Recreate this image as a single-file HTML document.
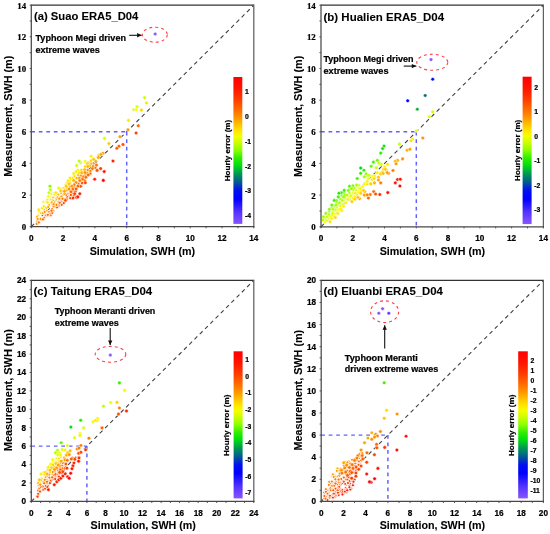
<!DOCTYPE html>
<html><head><meta charset="utf-8"><style>
html,body{margin:0;padding:0;background:#fff;width:550px;height:534px;overflow:hidden}
svg{display:block;filter:blur(0.35px)}
</style></head><body>
<svg width="550" height="534" viewBox="0 0 550 534"><rect x="0" y="0" width="550" height="534" fill="#fff"/><defs><linearGradient id="cbg" x1="0" y1="0" x2="0" y2="1"><stop offset="0.0" stop-color="#ff0000"/><stop offset="0.08" stop-color="#ff1500"/><stop offset="0.16" stop-color="#ff4000"/><stop offset="0.24" stop-color="#ff7800"/><stop offset="0.29" stop-color="#ffa000"/><stop offset="0.335" stop-color="#ffcc00"/><stop offset="0.37" stop-color="#ffe800"/><stop offset="0.405" stop-color="#f4ff00"/><stop offset="0.45" stop-color="#c8ff00"/><stop offset="0.5" stop-color="#88ff00"/><stop offset="0.55" stop-color="#33ee00"/><stop offset="0.6" stop-color="#00e010"/><stop offset="0.66" stop-color="#009655"/><stop offset="0.72" stop-color="#005599"/><stop offset="0.77" stop-color="#0011ee"/><stop offset="0.83" stop-color="#0000ff"/><stop offset="0.92" stop-color="#5533ff"/><stop offset="1.0" stop-color="#8855ff"/></linearGradient></defs>
<line x1="31.3" y1="226.7" x2="253.8" y2="5.2" stroke="#404040" stroke-width="1.1" stroke-dasharray="4 3.42"/>
<line x1="31.3" y1="131.8" x2="126.7" y2="131.8" stroke="#6060ff" stroke-width="1.45" stroke-dasharray="3.7 3.8"/>
<line x1="126.7" y1="131.8" x2="126.7" y2="226.7" stroke="#6060ff" stroke-width="1.45" stroke-dasharray="3.7 3.8"/>
<circle cx="68.8" cy="196.4" r="1.6" fill="#ff5900" stroke="#fff" stroke-width="0.8"/>
<circle cx="44.8" cy="216.7" r="1.6" fill="#ff7400" stroke="#fff" stroke-width="0.8"/>
<circle cx="53.0" cy="210.4" r="1.6" fill="#ff6700" stroke="#fff" stroke-width="0.8"/>
<circle cx="63.1" cy="188.3" r="1.6" fill="#ffd200" stroke="#fff" stroke-width="0.8"/>
<circle cx="65.1" cy="189.3" r="1.6" fill="#ffb400" stroke="#fff" stroke-width="0.8"/>
<circle cx="70.5" cy="189.8" r="1.6" fill="#ff7e00" stroke="#fff" stroke-width="0.8"/>
<circle cx="38.9" cy="219.6" r="1.6" fill="#ff8d00" stroke="#fff" stroke-width="0.8"/>
<circle cx="50.7" cy="215.1" r="1.6" fill="#ff5400" stroke="#fff" stroke-width="0.8"/>
<circle cx="65.4" cy="198.8" r="1.6" fill="#ff6100" stroke="#fff" stroke-width="0.8"/>
<circle cx="57.8" cy="204.2" r="1.6" fill="#ff7000" stroke="#fff" stroke-width="0.8"/>
<circle cx="62.5" cy="191.6" r="1.6" fill="#ffb700" stroke="#fff" stroke-width="0.8"/>
<circle cx="58.5" cy="202.0" r="1.6" fill="#ff7c00" stroke="#fff" stroke-width="0.8"/>
<circle cx="40.5" cy="218.9" r="1.6" fill="#ff8500" stroke="#fff" stroke-width="0.8"/>
<circle cx="69.4" cy="194.1" r="1.6" fill="#ff6500" stroke="#fff" stroke-width="0.8"/>
<circle cx="66.5" cy="183.2" r="1.6" fill="#ffe000" stroke="#fff" stroke-width="0.8"/>
<circle cx="54.6" cy="197.8" r="1.6" fill="#ffc800" stroke="#fff" stroke-width="0.8"/>
<circle cx="62.8" cy="193.7" r="1.6" fill="#ff9f00" stroke="#fff" stroke-width="0.8"/>
<circle cx="39.2" cy="211.6" r="1.6" fill="#ffd500" stroke="#fff" stroke-width="0.8"/>
<circle cx="56.1" cy="200.0" r="1.6" fill="#ffa200" stroke="#fff" stroke-width="0.8"/>
<circle cx="68.1" cy="185.8" r="1.6" fill="#ffba00" stroke="#fff" stroke-width="0.8"/>
<circle cx="46.2" cy="207.8" r="1.6" fill="#ffb800" stroke="#fff" stroke-width="0.8"/>
<circle cx="61.4" cy="196.6" r="1.6" fill="#ff9100" stroke="#fff" stroke-width="0.8"/>
<circle cx="68.3" cy="195.0" r="1.6" fill="#ff6700" stroke="#fff" stroke-width="0.8"/>
<circle cx="46.0" cy="200.9" r="1.6" fill="#f9f500" stroke="#fff" stroke-width="0.8"/>
<circle cx="49.7" cy="196.9" r="1.6" fill="#f8f700" stroke="#fff" stroke-width="0.8"/>
<circle cx="56.7" cy="198.7" r="1.6" fill="#ffaa00" stroke="#fff" stroke-width="0.8"/>
<circle cx="43.4" cy="201.9" r="1.6" fill="#f3ff00" stroke="#fff" stroke-width="0.8"/>
<circle cx="70.2" cy="196.8" r="1.6" fill="#ff4c00" stroke="#fff" stroke-width="0.8"/>
<circle cx="52.1" cy="203.9" r="1.6" fill="#ffa300" stroke="#fff" stroke-width="0.8"/>
<circle cx="44.0" cy="217.9" r="1.6" fill="#ff7100" stroke="#fff" stroke-width="0.8"/>
<circle cx="54.3" cy="202.1" r="1.6" fill="#ff9f00" stroke="#fff" stroke-width="0.8"/>
<circle cx="56.7" cy="195.9" r="1.6" fill="#ffc700" stroke="#fff" stroke-width="0.8"/>
<circle cx="37.4" cy="221.2" r="1.6" fill="#ff8c00" stroke="#fff" stroke-width="0.8"/>
<circle cx="58.9" cy="205.8" r="1.6" fill="#ff5d00" stroke="#fff" stroke-width="0.8"/>
<circle cx="46.8" cy="211.0" r="1.6" fill="#ff9300" stroke="#fff" stroke-width="0.8"/>
<circle cx="53.6" cy="193.5" r="1.6" fill="#faf300" stroke="#fff" stroke-width="0.8"/>
<circle cx="72.4" cy="195.0" r="1.6" fill="#ff4900" stroke="#fff" stroke-width="0.8"/>
<circle cx="61.0" cy="193.0" r="1.6" fill="#ffb800" stroke="#fff" stroke-width="0.8"/>
<circle cx="49.2" cy="211.8" r="1.6" fill="#ff7800" stroke="#fff" stroke-width="0.8"/>
<circle cx="61.2" cy="201.3" r="1.6" fill="#ff6d00" stroke="#fff" stroke-width="0.8"/>
<circle cx="72.8" cy="190.9" r="1.6" fill="#ff6400" stroke="#fff" stroke-width="0.8"/>
<circle cx="49.1" cy="205.1" r="1.6" fill="#ffb500" stroke="#fff" stroke-width="0.8"/>
<circle cx="38.0" cy="215.5" r="1.6" fill="#ffbd00" stroke="#fff" stroke-width="0.8"/>
<circle cx="50.7" cy="213.2" r="1.6" fill="#ff6200" stroke="#fff" stroke-width="0.8"/>
<circle cx="54.6" cy="194.6" r="1.6" fill="#ffe400" stroke="#fff" stroke-width="0.8"/>
<circle cx="56.9" cy="207.3" r="1.6" fill="#ff6000" stroke="#fff" stroke-width="0.8"/>
<circle cx="37.0" cy="216.7" r="1.6" fill="#ffba00" stroke="#fff" stroke-width="0.8"/>
<circle cx="41.2" cy="213.0" r="1.6" fill="#ffb500" stroke="#fff" stroke-width="0.8"/>
<circle cx="49.0" cy="199.6" r="1.6" fill="#ffe900" stroke="#fff" stroke-width="0.8"/>
<circle cx="72.1" cy="193.5" r="1.6" fill="#ff5600" stroke="#fff" stroke-width="0.8"/>
<circle cx="36.8" cy="223.8" r="1.6" fill="#ff7b00" stroke="#fff" stroke-width="0.8"/>
<circle cx="65.7" cy="184.9" r="1.6" fill="#ffd900" stroke="#fff" stroke-width="0.8"/>
<circle cx="57.8" cy="197.3" r="1.6" fill="#ffac00" stroke="#fff" stroke-width="0.8"/>
<circle cx="38.8" cy="222.4" r="1.6" fill="#ff7600" stroke="#fff" stroke-width="0.8"/>
<circle cx="61.1" cy="199.4" r="1.6" fill="#ff7d00" stroke="#fff" stroke-width="0.8"/>
<circle cx="56.3" cy="204.9" r="1.6" fill="#ff7600" stroke="#fff" stroke-width="0.8"/>
<circle cx="44.4" cy="210.1" r="1.6" fill="#ffb200" stroke="#fff" stroke-width="0.8"/>
<circle cx="66.8" cy="190.3" r="1.6" fill="#ff9900" stroke="#fff" stroke-width="0.8"/>
<circle cx="67.4" cy="193.9" r="1.6" fill="#ff7600" stroke="#fff" stroke-width="0.8"/>
<circle cx="59.8" cy="204.4" r="1.6" fill="#ff6000" stroke="#fff" stroke-width="0.8"/>
<circle cx="52.2" cy="212.8" r="1.6" fill="#ff5a00" stroke="#fff" stroke-width="0.8"/>
<circle cx="52.0" cy="209.0" r="1.6" fill="#ff7900" stroke="#fff" stroke-width="0.8"/>
<circle cx="42.2" cy="208.1" r="1.6" fill="#ffdb00" stroke="#fff" stroke-width="0.8"/>
<circle cx="48.2" cy="207.0" r="1.6" fill="#ffaa00" stroke="#fff" stroke-width="0.8"/>
<circle cx="73.8" cy="195.5" r="1.6" fill="#ff3c00" stroke="#fff" stroke-width="0.8"/>
<circle cx="47.5" cy="198.3" r="1.6" fill="#f5fc00" stroke="#fff" stroke-width="0.8"/>
<circle cx="53.6" cy="206.2" r="1.6" fill="#ff8200" stroke="#fff" stroke-width="0.8"/>
<circle cx="61.8" cy="204.7" r="1.6" fill="#ff5000" stroke="#fff" stroke-width="0.8"/>
<circle cx="42.8" cy="213.2" r="1.6" fill="#ffa200" stroke="#fff" stroke-width="0.8"/>
<circle cx="62.5" cy="198.7" r="1.6" fill="#ff7600" stroke="#fff" stroke-width="0.8"/>
<circle cx="51.3" cy="199.5" r="1.6" fill="#ffd600" stroke="#fff" stroke-width="0.8"/>
<circle cx="44.7" cy="212.0" r="1.6" fill="#ff9c00" stroke="#fff" stroke-width="0.8"/>
<circle cx="70.3" cy="198.2" r="1.6" fill="#ff4000" stroke="#fff" stroke-width="0.8"/>
<circle cx="53.1" cy="197.7" r="1.6" fill="#ffd600" stroke="#fff" stroke-width="0.8"/>
<circle cx="66.9" cy="198.9" r="1.6" fill="#ff5400" stroke="#fff" stroke-width="0.8"/>
<circle cx="43.7" cy="206.3" r="1.6" fill="#ffdd00" stroke="#fff" stroke-width="0.8"/>
<circle cx="58.3" cy="194.5" r="1.6" fill="#ffc400" stroke="#fff" stroke-width="0.8"/>
<circle cx="51.3" cy="193.8" r="1.6" fill="#f0ff00" stroke="#fff" stroke-width="0.8"/>
<circle cx="46.2" cy="215.3" r="1.6" fill="#ff7400" stroke="#fff" stroke-width="0.8"/>
<circle cx="59.7" cy="202.8" r="1.6" fill="#ff6d00" stroke="#fff" stroke-width="0.8"/>
<circle cx="60.8" cy="189.0" r="1.6" fill="#ffdf00" stroke="#fff" stroke-width="0.8"/>
<circle cx="47.4" cy="199.9" r="1.6" fill="#faf200" stroke="#fff" stroke-width="0.8"/>
<circle cx="70.3" cy="183.0" r="1.6" fill="#ffc000" stroke="#fff" stroke-width="0.8"/>
<circle cx="51.5" cy="210.7" r="1.6" fill="#ff6f00" stroke="#fff" stroke-width="0.8"/>
<circle cx="70.9" cy="195.0" r="1.6" fill="#ff5400" stroke="#fff" stroke-width="0.8"/>
<circle cx="47.8" cy="214.8" r="1.6" fill="#ff6c00" stroke="#fff" stroke-width="0.8"/>
<circle cx="67.0" cy="196.7" r="1.6" fill="#ff6500" stroke="#fff" stroke-width="0.8"/>
<circle cx="66.7" cy="187.6" r="1.6" fill="#ffb500" stroke="#fff" stroke-width="0.8"/>
<circle cx="48.3" cy="196.3" r="1.6" fill="#ebff00" stroke="#fff" stroke-width="0.8"/>
<circle cx="66.2" cy="194.8" r="1.6" fill="#ff7900" stroke="#fff" stroke-width="0.8"/>
<circle cx="63.8" cy="203.0" r="1.6" fill="#ff4d00" stroke="#fff" stroke-width="0.8"/>
<circle cx="37.6" cy="218.9" r="1.6" fill="#ff9d00" stroke="#fff" stroke-width="0.8"/>
<circle cx="64.6" cy="193.7" r="1.6" fill="#ff8f00" stroke="#fff" stroke-width="0.8"/>
<circle cx="52.9" cy="200.5" r="1.6" fill="#ffbe00" stroke="#fff" stroke-width="0.8"/>
<circle cx="59.3" cy="198.6" r="1.6" fill="#ff9300" stroke="#fff" stroke-width="0.8"/>
<circle cx="42.9" cy="219.4" r="1.6" fill="#ff6e00" stroke="#fff" stroke-width="0.8"/>
<circle cx="51.8" cy="202.3" r="1.6" fill="#ffb600" stroke="#fff" stroke-width="0.8"/>
<circle cx="47.5" cy="202.3" r="1.6" fill="#ffdf00" stroke="#fff" stroke-width="0.8"/>
<circle cx="69.5" cy="187.0" r="1.6" fill="#ff9f00" stroke="#fff" stroke-width="0.8"/>
<circle cx="53.6" cy="204.2" r="1.6" fill="#ff9300" stroke="#fff" stroke-width="0.8"/>
<circle cx="78.3" cy="175.0" r="1.65" fill="#ffc100" stroke="#fff" stroke-width="0.5"/>
<circle cx="85.2" cy="166.6" r="1.65" fill="#ffcf00" stroke="#fff" stroke-width="0.5"/>
<circle cx="81.4" cy="170.1" r="1.65" fill="#ffd200" stroke="#fff" stroke-width="0.5"/>
<circle cx="90.3" cy="170.9" r="1.65" fill="#ff7700" stroke="#fff" stroke-width="0.5"/>
<circle cx="76.7" cy="178.1" r="1.65" fill="#ffb000" stroke="#fff" stroke-width="0.5"/>
<circle cx="91.1" cy="160.6" r="1.65" fill="#ffd000" stroke="#fff" stroke-width="0.5"/>
<circle cx="93.6" cy="163.3" r="1.65" fill="#ff9d00" stroke="#fff" stroke-width="0.5"/>
<circle cx="95.4" cy="160.8" r="1.65" fill="#ffa200" stroke="#fff" stroke-width="0.5"/>
<circle cx="79.3" cy="178.0" r="1.65" fill="#ff9800" stroke="#fff" stroke-width="0.5"/>
<circle cx="95.2" cy="167.7" r="1.65" fill="#ff6b00" stroke="#fff" stroke-width="0.5"/>
<circle cx="90.2" cy="173.6" r="1.65" fill="#ff6400" stroke="#fff" stroke-width="0.5"/>
<circle cx="84.7" cy="180.5" r="1.65" fill="#ff5a00" stroke="#fff" stroke-width="0.5"/>
<circle cx="78.4" cy="183.9" r="1.65" fill="#ff6f00" stroke="#fff" stroke-width="0.5"/>
<circle cx="81.2" cy="175.4" r="1.65" fill="#ff9e00" stroke="#fff" stroke-width="0.5"/>
<circle cx="74.4" cy="175.9" r="1.65" fill="#ffdb00" stroke="#fff" stroke-width="0.5"/>
<circle cx="82.0" cy="183.0" r="1.65" fill="#ff5b00" stroke="#fff" stroke-width="0.5"/>
<circle cx="87.6" cy="169.9" r="1.65" fill="#ff9600" stroke="#fff" stroke-width="0.5"/>
<circle cx="93.0" cy="166.2" r="1.65" fill="#ff8900" stroke="#fff" stroke-width="0.5"/>
<circle cx="85.4" cy="175.0" r="1.65" fill="#ff7e00" stroke="#fff" stroke-width="0.5"/>
<circle cx="90.8" cy="163.7" r="1.65" fill="#ffb400" stroke="#fff" stroke-width="0.5"/>
<circle cx="75.4" cy="191.3" r="1.65" fill="#ff4e00" stroke="#fff" stroke-width="0.5"/>
<circle cx="79.2" cy="172.5" r="1.65" fill="#ffd000" stroke="#fff" stroke-width="0.5"/>
<circle cx="74.3" cy="187.2" r="1.65" fill="#ff7500" stroke="#fff" stroke-width="0.5"/>
<circle cx="155.2" cy="34.0" r="1.8" fill="#8855ff" stroke="#fff" stroke-width="0.5"/>
<circle cx="144.6" cy="97.6" r="1.8" fill="#ceff00" stroke="#fff" stroke-width="0.5"/>
<circle cx="146.5" cy="103.0" r="1.8" fill="#ffe500" stroke="#fff" stroke-width="0.5"/>
<circle cx="137.0" cy="106.6" r="1.8" fill="#ddff00" stroke="#fff" stroke-width="0.5"/>
<circle cx="133.8" cy="109.8" r="1.8" fill="#ddff00" stroke="#fff" stroke-width="0.5"/>
<circle cx="136.1" cy="109.8" r="1.8" fill="#f4fe00" stroke="#fff" stroke-width="0.5"/>
<circle cx="141.5" cy="110.1" r="1.8" fill="#ffd300" stroke="#fff" stroke-width="0.5"/>
<circle cx="128.5" cy="120.4" r="1.8" fill="#fee900" stroke="#fff" stroke-width="0.5"/>
<circle cx="138.3" cy="125.8" r="1.8" fill="#ff6400" stroke="#fff" stroke-width="0.5"/>
<circle cx="128.0" cy="129.7" r="1.8" fill="#ff9700" stroke="#fff" stroke-width="0.5"/>
<circle cx="136.1" cy="133.0" r="1.8" fill="#ff3f00" stroke="#fff" stroke-width="0.5"/>
<circle cx="119.9" cy="136.7" r="1.8" fill="#ffa000" stroke="#fff" stroke-width="0.5"/>
<circle cx="104.5" cy="138.4" r="1.8" fill="#d7ff00" stroke="#fff" stroke-width="0.5"/>
<circle cx="108.9" cy="143.6" r="1.8" fill="#ffca00" stroke="#fff" stroke-width="0.5"/>
<circle cx="123.0" cy="144.5" r="1.8" fill="#ff4a00" stroke="#fff" stroke-width="0.5"/>
<circle cx="118.9" cy="146.2" r="1.8" fill="#ff5c00" stroke="#fff" stroke-width="0.5"/>
<circle cx="116.8" cy="148.3" r="1.8" fill="#ff5b00" stroke="#fff" stroke-width="0.5"/>
<circle cx="103.0" cy="153.3" r="1.8" fill="#ffa200" stroke="#fff" stroke-width="0.5"/>
<circle cx="98.9" cy="155.6" r="1.8" fill="#ffb500" stroke="#fff" stroke-width="0.5"/>
<circle cx="98.3" cy="157.4" r="1.8" fill="#ffa800" stroke="#fff" stroke-width="0.5"/>
<circle cx="91.2" cy="156.2" r="1.8" fill="#faf300" stroke="#fff" stroke-width="0.5"/>
<circle cx="93.6" cy="159.2" r="1.8" fill="#ffc600" stroke="#fff" stroke-width="0.5"/>
<circle cx="113.0" cy="161.0" r="1.8" fill="#ff2200" stroke="#fff" stroke-width="0.5"/>
<circle cx="85.3" cy="161.5" r="1.8" fill="#f8f700" stroke="#fff" stroke-width="0.5"/>
<circle cx="80.6" cy="162.7" r="1.8" fill="#dcff00" stroke="#fff" stroke-width="0.5"/>
<circle cx="88.3" cy="162.7" r="1.8" fill="#ffd600" stroke="#fff" stroke-width="0.5"/>
<circle cx="89.4" cy="165.7" r="1.8" fill="#ffae00" stroke="#fff" stroke-width="0.5"/>
<circle cx="96.5" cy="165.1" r="1.8" fill="#ff7500" stroke="#fff" stroke-width="0.5"/>
<circle cx="92.4" cy="168.6" r="1.8" fill="#ff7900" stroke="#fff" stroke-width="0.5"/>
<circle cx="97.1" cy="170.4" r="1.8" fill="#ff4900" stroke="#fff" stroke-width="0.5"/>
<circle cx="100.6" cy="168.6" r="1.8" fill="#ff3d00" stroke="#fff" stroke-width="0.5"/>
<circle cx="104.2" cy="171.6" r="1.8" fill="#ff1800" stroke="#fff" stroke-width="0.5"/>
<circle cx="84.7" cy="169.8" r="1.8" fill="#ffb400" stroke="#fff" stroke-width="0.5"/>
<circle cx="81.8" cy="172.7" r="1.8" fill="#ffb400" stroke="#fff" stroke-width="0.5"/>
<circle cx="87.1" cy="173.3" r="1.8" fill="#ff7e00" stroke="#fff" stroke-width="0.5"/>
<circle cx="83.5" cy="176.9" r="1.8" fill="#ff7e00" stroke="#fff" stroke-width="0.5"/>
<circle cx="94.7" cy="179.2" r="1.8" fill="#ff2200" stroke="#fff" stroke-width="0.5"/>
<circle cx="103.3" cy="180.4" r="1.8" fill="#ff0000" stroke="#fff" stroke-width="0.5"/>
<circle cx="85.3" cy="182.8" r="1.8" fill="#ff4400" stroke="#fff" stroke-width="0.5"/>
<circle cx="80.6" cy="186.3" r="1.8" fill="#ff4d00" stroke="#fff" stroke-width="0.5"/>
<circle cx="82.4" cy="179.2" r="1.8" fill="#ff7400" stroke="#fff" stroke-width="0.5"/>
<circle cx="79.2" cy="161.1" r="1.8" fill="#baff00" stroke="#fff" stroke-width="0.5"/>
<circle cx="87.3" cy="163.7" r="1.8" fill="#ffd600" stroke="#fff" stroke-width="0.5"/>
<circle cx="87.8" cy="166.5" r="1.8" fill="#ffb600" stroke="#fff" stroke-width="0.5"/>
<circle cx="100.9" cy="154.4" r="1.8" fill="#ffac00" stroke="#fff" stroke-width="0.5"/>
<circle cx="77.9" cy="170.3" r="1.8" fill="#fded00" stroke="#fff" stroke-width="0.5"/>
<circle cx="76.1" cy="171.7" r="1.8" fill="#fcef00" stroke="#fff" stroke-width="0.5"/>
<circle cx="73.7" cy="173.6" r="1.8" fill="#faf300" stroke="#fff" stroke-width="0.5"/>
<circle cx="85.0" cy="172.6" r="1.8" fill="#ff9600" stroke="#fff" stroke-width="0.5"/>
<circle cx="88.2" cy="175.0" r="1.8" fill="#ff6900" stroke="#fff" stroke-width="0.5"/>
<circle cx="85.9" cy="177.3" r="1.8" fill="#ff6900" stroke="#fff" stroke-width="0.5"/>
<circle cx="79.8" cy="180.6" r="1.8" fill="#ff7e00" stroke="#fff" stroke-width="0.5"/>
<circle cx="72.3" cy="178.2" r="1.8" fill="#ffda00" stroke="#fff" stroke-width="0.5"/>
<circle cx="70.0" cy="179.6" r="1.8" fill="#ffe100" stroke="#fff" stroke-width="0.5"/>
<circle cx="68.1" cy="181.0" r="1.8" fill="#ffe600" stroke="#fff" stroke-width="0.5"/>
<circle cx="73.7" cy="180.6" r="1.8" fill="#ffb500" stroke="#fff" stroke-width="0.5"/>
<circle cx="76.1" cy="182.5" r="1.8" fill="#ff8d00" stroke="#fff" stroke-width="0.5"/>
<circle cx="74.2" cy="184.8" r="1.8" fill="#ff8a00" stroke="#fff" stroke-width="0.5"/>
<circle cx="77.9" cy="186.2" r="1.8" fill="#ff6200" stroke="#fff" stroke-width="0.5"/>
<circle cx="79.8" cy="193.7" r="1.8" fill="#ff2400" stroke="#fff" stroke-width="0.5"/>
<circle cx="71.9" cy="186.2" r="1.8" fill="#ff9100" stroke="#fff" stroke-width="0.5"/>
<circle cx="69.0" cy="183.9" r="1.8" fill="#ffc400" stroke="#fff" stroke-width="0.5"/>
<circle cx="66.2" cy="186.2" r="1.8" fill="#ffc900" stroke="#fff" stroke-width="0.5"/>
<circle cx="58.7" cy="188.1" r="1.8" fill="#f8f600" stroke="#fff" stroke-width="0.5"/>
<circle cx="60.6" cy="190.9" r="1.8" fill="#ffd100" stroke="#fff" stroke-width="0.5"/>
<circle cx="64.4" cy="191.3" r="1.8" fill="#ffa600" stroke="#fff" stroke-width="0.5"/>
<circle cx="69.0" cy="189.0" r="1.8" fill="#ff9200" stroke="#fff" stroke-width="0.5"/>
<circle cx="72.8" cy="189.0" r="1.8" fill="#ff7300" stroke="#fff" stroke-width="0.5"/>
<circle cx="76.1" cy="189.0" r="1.8" fill="#ff5a00" stroke="#fff" stroke-width="0.5"/>
<circle cx="55.9" cy="192.8" r="1.8" fill="#ffe800" stroke="#fff" stroke-width="0.5"/>
<circle cx="70.9" cy="191.8" r="1.8" fill="#ff6c00" stroke="#fff" stroke-width="0.5"/>
<circle cx="74.7" cy="193.7" r="1.8" fill="#ff4200" stroke="#fff" stroke-width="0.5"/>
<circle cx="50.0" cy="186.2" r="1.8" fill="#83fe00" stroke="#fff" stroke-width="0.5"/>
<circle cx="50.3" cy="189.8" r="1.8" fill="#b9ff00" stroke="#fff" stroke-width="0.5"/>
<circle cx="48.9" cy="192.7" r="1.8" fill="#ccff00" stroke="#fff" stroke-width="0.5"/>
<circle cx="70.1" cy="178.0" r="1.8" fill="#fded00" stroke="#fff" stroke-width="0.5"/>
<circle cx="76.6" cy="165.6" r="1.8" fill="#d1ff00" stroke="#fff" stroke-width="0.5"/>
<circle cx="76.6" cy="197.4" r="1.8" fill="#ff2100" stroke="#fff" stroke-width="0.5"/>
<circle cx="73.0" cy="198.0" r="1.8" fill="#ff3200" stroke="#fff" stroke-width="0.5"/>
<circle cx="65.4" cy="200.4" r="1.8" fill="#ff5500" stroke="#fff" stroke-width="0.5"/>
<circle cx="38.8" cy="209.8" r="1.8" fill="#ffe900" stroke="#fff" stroke-width="0.5"/>
<circle cx="77.8" cy="196.9" r="1.8" fill="#ff1d00" stroke="#fff" stroke-width="0.5"/>
<line x1="31.3" y1="5.2" x2="253.8" y2="5.2" stroke="#333" stroke-width="1.25"/>
<line x1="253.8" y1="4.6" x2="253.8" y2="227.3" stroke="#606060" stroke-width="1.25"/>
<line x1="31.3" y1="4.6" x2="31.3" y2="227.3" stroke="#484848" stroke-width="1.25"/>
<line x1="30.7" y1="226.7" x2="254.4" y2="226.7" stroke="#484848" stroke-width="1.25"/>
<line x1="31.3" y1="226.7" x2="31.3" y2="228.3" stroke="#444" stroke-width="0.9"/>
<line x1="29.7" y1="226.7" x2="31.3" y2="226.7" stroke="#444" stroke-width="0.9"/>
<line x1="47.2" y1="226.7" x2="47.2" y2="228.3" stroke="#444" stroke-width="0.9"/>
<line x1="29.7" y1="210.9" x2="31.3" y2="210.9" stroke="#444" stroke-width="0.9"/>
<line x1="63.1" y1="226.7" x2="63.1" y2="228.3" stroke="#444" stroke-width="0.9"/>
<line x1="29.7" y1="195.1" x2="31.3" y2="195.1" stroke="#444" stroke-width="0.9"/>
<line x1="79.0" y1="226.7" x2="79.0" y2="228.3" stroke="#444" stroke-width="0.9"/>
<line x1="29.7" y1="179.2" x2="31.3" y2="179.2" stroke="#444" stroke-width="0.9"/>
<line x1="94.9" y1="226.7" x2="94.9" y2="228.3" stroke="#444" stroke-width="0.9"/>
<line x1="29.7" y1="163.4" x2="31.3" y2="163.4" stroke="#444" stroke-width="0.9"/>
<line x1="110.8" y1="226.7" x2="110.8" y2="228.3" stroke="#444" stroke-width="0.9"/>
<line x1="29.7" y1="147.6" x2="31.3" y2="147.6" stroke="#444" stroke-width="0.9"/>
<line x1="126.7" y1="226.7" x2="126.7" y2="228.3" stroke="#444" stroke-width="0.9"/>
<line x1="29.7" y1="131.8" x2="31.3" y2="131.8" stroke="#444" stroke-width="0.9"/>
<line x1="142.6" y1="226.7" x2="142.6" y2="228.3" stroke="#444" stroke-width="0.9"/>
<line x1="29.7" y1="115.9" x2="31.3" y2="115.9" stroke="#444" stroke-width="0.9"/>
<line x1="158.4" y1="226.7" x2="158.4" y2="228.3" stroke="#444" stroke-width="0.9"/>
<line x1="29.7" y1="100.1" x2="31.3" y2="100.1" stroke="#444" stroke-width="0.9"/>
<line x1="174.3" y1="226.7" x2="174.3" y2="228.3" stroke="#444" stroke-width="0.9"/>
<line x1="29.7" y1="84.3" x2="31.3" y2="84.3" stroke="#444" stroke-width="0.9"/>
<line x1="190.2" y1="226.7" x2="190.2" y2="228.3" stroke="#444" stroke-width="0.9"/>
<line x1="29.7" y1="68.5" x2="31.3" y2="68.5" stroke="#444" stroke-width="0.9"/>
<line x1="206.1" y1="226.7" x2="206.1" y2="228.3" stroke="#444" stroke-width="0.9"/>
<line x1="29.7" y1="52.7" x2="31.3" y2="52.7" stroke="#444" stroke-width="0.9"/>
<line x1="222.0" y1="226.7" x2="222.0" y2="228.3" stroke="#444" stroke-width="0.9"/>
<line x1="29.7" y1="36.8" x2="31.3" y2="36.8" stroke="#444" stroke-width="0.9"/>
<line x1="237.9" y1="226.7" x2="237.9" y2="228.3" stroke="#444" stroke-width="0.9"/>
<line x1="29.7" y1="21.0" x2="31.3" y2="21.0" stroke="#444" stroke-width="0.9"/>
<line x1="253.8" y1="226.7" x2="253.8" y2="228.3" stroke="#444" stroke-width="0.9"/>
<line x1="29.7" y1="5.2" x2="31.3" y2="5.2" stroke="#444" stroke-width="0.9"/>
<text x="31.30" y="240.60" font-family='"Liberation Sans", sans-serif' font-size="8.2" font-weight="bold" text-anchor="middle" fill="#000" stroke="#000" stroke-width="0.22" >0</text>
<text x="26.10" y="230.10" font-family='"Liberation Serif", serif' font-size="8.9" font-weight="bold" text-anchor="end" fill="#000" stroke="#000" stroke-width="0.22" >0</text>
<text x="63.09" y="240.60" font-family='"Liberation Sans", sans-serif' font-size="8.2" font-weight="bold" text-anchor="middle" fill="#000" stroke="#000" stroke-width="0.22" >2</text>
<text x="26.10" y="198.46" font-family='"Liberation Serif", serif' font-size="8.9" font-weight="bold" text-anchor="end" fill="#000" stroke="#000" stroke-width="0.22" >2</text>
<text x="94.87" y="240.60" font-family='"Liberation Sans", sans-serif' font-size="8.2" font-weight="bold" text-anchor="middle" fill="#000" stroke="#000" stroke-width="0.22" >4</text>
<text x="26.10" y="166.81" font-family='"Liberation Serif", serif' font-size="8.9" font-weight="bold" text-anchor="end" fill="#000" stroke="#000" stroke-width="0.22" >4</text>
<text x="126.66" y="240.60" font-family='"Liberation Sans", sans-serif' font-size="8.2" font-weight="bold" text-anchor="middle" fill="#000" stroke="#000" stroke-width="0.22" >6</text>
<text x="26.10" y="135.17" font-family='"Liberation Serif", serif' font-size="8.9" font-weight="bold" text-anchor="end" fill="#000" stroke="#000" stroke-width="0.22" >6</text>
<text x="158.44" y="240.60" font-family='"Liberation Sans", sans-serif' font-size="8.2" font-weight="bold" text-anchor="middle" fill="#000" stroke="#000" stroke-width="0.22" >8</text>
<text x="26.10" y="103.53" font-family='"Liberation Serif", serif' font-size="8.9" font-weight="bold" text-anchor="end" fill="#000" stroke="#000" stroke-width="0.22" >8</text>
<text x="190.23" y="240.60" font-family='"Liberation Sans", sans-serif' font-size="8.2" font-weight="bold" text-anchor="middle" fill="#000" stroke="#000" stroke-width="0.22" >10</text>
<text x="26.10" y="71.89" font-family='"Liberation Serif", serif' font-size="8.9" font-weight="bold" text-anchor="end" fill="#000" stroke="#000" stroke-width="0.22" >10</text>
<text x="222.01" y="240.60" font-family='"Liberation Sans", sans-serif' font-size="8.2" font-weight="bold" text-anchor="middle" fill="#000" stroke="#000" stroke-width="0.22" >12</text>
<text x="26.10" y="40.24" font-family='"Liberation Serif", serif' font-size="8.9" font-weight="bold" text-anchor="end" fill="#000" stroke="#000" stroke-width="0.22" >12</text>
<text x="253.80" y="240.60" font-family='"Liberation Sans", sans-serif' font-size="8.2" font-weight="bold" text-anchor="middle" fill="#000" stroke="#000" stroke-width="0.22" >14</text>
<text x="26.10" y="8.60" font-family='"Liberation Serif", serif' font-size="8.9" font-weight="bold" text-anchor="end" fill="#000" stroke="#000" stroke-width="0.22" >14</text>
<rect x="233.4" y="77.0" width="8.9" height="146.9" fill="url(#cbg)"/>
<text x="244.90" y="94.46" font-family='"Liberation Sans", sans-serif' font-size="6.8" font-weight="bold" text-anchor="start" fill="#000" stroke="#000" stroke-width="0.22" >1</text>
<text x="244.90" y="119.15" font-family='"Liberation Sans", sans-serif' font-size="6.8" font-weight="bold" text-anchor="start" fill="#000" stroke="#000" stroke-width="0.22" >0</text>
<text x="244.90" y="143.84" font-family='"Liberation Sans", sans-serif' font-size="6.8" font-weight="bold" text-anchor="start" fill="#000" stroke="#000" stroke-width="0.22" >-1</text>
<text x="244.90" y="168.53" font-family='"Liberation Sans", sans-serif' font-size="6.8" font-weight="bold" text-anchor="start" fill="#000" stroke="#000" stroke-width="0.22" >-2</text>
<text x="244.90" y="193.22" font-family='"Liberation Sans", sans-serif' font-size="6.8" font-weight="bold" text-anchor="start" fill="#000" stroke="#000" stroke-width="0.22" >-3</text>
<text x="244.90" y="217.91" font-family='"Liberation Sans", sans-serif' font-size="6.8" font-weight="bold" text-anchor="start" fill="#000" stroke="#000" stroke-width="0.22" >-4</text>
<line x1="321.0" y1="226.8" x2="543.4" y2="5.2" stroke="#404040" stroke-width="1.1" stroke-dasharray="4 3.42"/>
<line x1="321.0" y1="131.8" x2="416.3" y2="131.8" stroke="#6060ff" stroke-width="1.45" stroke-dasharray="3.7 3.8"/>
<line x1="416.3" y1="131.8" x2="416.3" y2="226.8" stroke="#6060ff" stroke-width="1.45" stroke-dasharray="3.7 3.8"/>
<circle cx="357.7" cy="192.6" r="1.65" fill="#fcef00" stroke="#fff" stroke-width="0.5"/>
<circle cx="333.7" cy="216.2" r="1.65" fill="#faf200" stroke="#fff" stroke-width="0.5"/>
<circle cx="358.9" cy="185.3" r="1.65" fill="#ceff00" stroke="#fff" stroke-width="0.5"/>
<circle cx="353.1" cy="195.5" r="1.65" fill="#f6fb00" stroke="#fff" stroke-width="0.5"/>
<circle cx="345.0" cy="198.6" r="1.65" fill="#c7ff00" stroke="#fff" stroke-width="0.5"/>
<circle cx="342.1" cy="204.5" r="1.65" fill="#e6ff00" stroke="#fff" stroke-width="0.5"/>
<circle cx="340.7" cy="199.2" r="1.65" fill="#96ff00" stroke="#fff" stroke-width="0.5"/>
<circle cx="325.3" cy="218.8" r="1.65" fill="#ceff00" stroke="#fff" stroke-width="0.5"/>
<circle cx="338.0" cy="205.0" r="1.65" fill="#c0ff00" stroke="#fff" stroke-width="0.5"/>
<circle cx="358.3" cy="189.8" r="1.65" fill="#f4fe00" stroke="#fff" stroke-width="0.5"/>
<circle cx="349.3" cy="192.8" r="1.65" fill="#b3ff00" stroke="#fff" stroke-width="0.5"/>
<circle cx="336.4" cy="211.5" r="1.65" fill="#f4ff00" stroke="#fff" stroke-width="0.5"/>
<circle cx="353.5" cy="193.0" r="1.65" fill="#e4ff00" stroke="#fff" stroke-width="0.5"/>
<circle cx="336.6" cy="202.8" r="1.65" fill="#90ff00" stroke="#fff" stroke-width="0.5"/>
<circle cx="329.2" cy="211.5" r="1.65" fill="#a1ff00" stroke="#fff" stroke-width="0.5"/>
<circle cx="336.5" cy="207.7" r="1.65" fill="#cdff00" stroke="#fff" stroke-width="0.5"/>
<circle cx="344.4" cy="201.6" r="1.65" fill="#e0ff00" stroke="#fff" stroke-width="0.5"/>
<circle cx="336.4" cy="200.5" r="1.65" fill="#67f800" stroke="#fff" stroke-width="0.5"/>
<circle cx="334.2" cy="206.6" r="1.65" fill="#a2ff00" stroke="#fff" stroke-width="0.5"/>
<circle cx="343.9" cy="192.7" r="1.65" fill="#60f700" stroke="#fff" stroke-width="0.5"/>
<circle cx="360.6" cy="191.0" r="1.65" fill="#ffe600" stroke="#fff" stroke-width="0.5"/>
<circle cx="334.8" cy="213.7" r="1.65" fill="#f6fb00" stroke="#fff" stroke-width="0.5"/>
<circle cx="329.9" cy="216.5" r="1.65" fill="#e5ff00" stroke="#fff" stroke-width="0.5"/>
<circle cx="338.8" cy="209.5" r="1.65" fill="#f5fd00" stroke="#fff" stroke-width="0.5"/>
<circle cx="356.9" cy="195.0" r="1.65" fill="#ffe300" stroke="#fff" stroke-width="0.5"/>
<circle cx="356.0" cy="189.8" r="1.65" fill="#ddff00" stroke="#fff" stroke-width="0.5"/>
<circle cx="350.0" cy="200.1" r="1.65" fill="#fbf000" stroke="#fff" stroke-width="0.5"/>
<circle cx="331.7" cy="207.9" r="1.65" fill="#92ff00" stroke="#fff" stroke-width="0.5"/>
<circle cx="353.2" cy="189.8" r="1.65" fill="#bfff00" stroke="#fff" stroke-width="0.5"/>
<circle cx="340.2" cy="205.8" r="1.65" fill="#e0ff00" stroke="#fff" stroke-width="0.5"/>
<circle cx="348.9" cy="197.0" r="1.65" fill="#dfff00" stroke="#fff" stroke-width="0.5"/>
<circle cx="329.1" cy="218.6" r="1.65" fill="#f2ff00" stroke="#fff" stroke-width="0.5"/>
<circle cx="342.0" cy="195.7" r="1.65" fill="#73fb00" stroke="#fff" stroke-width="0.5"/>
<circle cx="353.0" cy="198.5" r="1.65" fill="#ffe700" stroke="#fff" stroke-width="0.5"/>
<circle cx="344.9" cy="195.0" r="1.65" fill="#96ff00" stroke="#fff" stroke-width="0.5"/>
<circle cx="324.9" cy="222.0" r="1.65" fill="#eaff00" stroke="#fff" stroke-width="0.5"/>
<circle cx="333.8" cy="211.4" r="1.65" fill="#d8ff00" stroke="#fff" stroke-width="0.5"/>
<circle cx="331.6" cy="218.5" r="1.65" fill="#fbf000" stroke="#fff" stroke-width="0.5"/>
<circle cx="354.8" cy="196.9" r="1.65" fill="#ffe600" stroke="#fff" stroke-width="0.5"/>
<circle cx="354.5" cy="187.8" r="1.65" fill="#b6ff00" stroke="#fff" stroke-width="0.5"/>
<circle cx="431.0" cy="59.6" r="1.8" fill="#8855ff" stroke="#fff" stroke-width="0.5"/>
<circle cx="432.7" cy="79.2" r="1.8" fill="#000df2" stroke="#fff" stroke-width="0.5"/>
<circle cx="425.2" cy="95.5" r="1.8" fill="#00727a" stroke="#fff" stroke-width="0.5"/>
<circle cx="407.7" cy="100.8" r="1.8" fill="#0003fc" stroke="#fff" stroke-width="0.5"/>
<circle cx="417.3" cy="109.2" r="1.8" fill="#00b835" stroke="#fff" stroke-width="0.5"/>
<circle cx="432.7" cy="111.8" r="1.8" fill="#ceff00" stroke="#fff" stroke-width="0.5"/>
<circle cx="429.3" cy="116.7" r="1.8" fill="#ddff00" stroke="#fff" stroke-width="0.5"/>
<circle cx="416.4" cy="130.7" r="1.8" fill="#e9ff00" stroke="#fff" stroke-width="0.5"/>
<circle cx="412.5" cy="139.2" r="1.8" fill="#ffe700" stroke="#fff" stroke-width="0.5"/>
<circle cx="422.8" cy="138.0" r="1.8" fill="#ff9300" stroke="#fff" stroke-width="0.5"/>
<circle cx="411.0" cy="140.7" r="1.8" fill="#ffe700" stroke="#fff" stroke-width="0.5"/>
<circle cx="399.4" cy="144.1" r="1.8" fill="#c3ff00" stroke="#fff" stroke-width="0.5"/>
<circle cx="384.0" cy="146.1" r="1.8" fill="#07e20e" stroke="#fff" stroke-width="0.5"/>
<circle cx="382.6" cy="148.6" r="1.8" fill="#13e50a" stroke="#fff" stroke-width="0.5"/>
<circle cx="380.7" cy="153.1" r="1.8" fill="#2fed01" stroke="#fff" stroke-width="0.5"/>
<circle cx="407.1" cy="150.3" r="1.8" fill="#ffb200" stroke="#fff" stroke-width="0.5"/>
<circle cx="409.9" cy="149.2" r="1.8" fill="#ffa100" stroke="#fff" stroke-width="0.5"/>
<circle cx="402.6" cy="158.9" r="1.8" fill="#ff8c00" stroke="#fff" stroke-width="0.5"/>
<circle cx="397.5" cy="160.4" r="1.8" fill="#ffad00" stroke="#fff" stroke-width="0.5"/>
<circle cx="395.3" cy="161.2" r="1.8" fill="#ffbb00" stroke="#fff" stroke-width="0.5"/>
<circle cx="396.1" cy="163.8" r="1.8" fill="#ff9a00" stroke="#fff" stroke-width="0.5"/>
<circle cx="377.3" cy="160.4" r="1.8" fill="#71fa00" stroke="#fff" stroke-width="0.5"/>
<circle cx="373.4" cy="162.1" r="1.8" fill="#4af300" stroke="#fff" stroke-width="0.5"/>
<circle cx="371.1" cy="166.3" r="1.8" fill="#6cf900" stroke="#fff" stroke-width="0.5"/>
<circle cx="379.0" cy="163.2" r="1.8" fill="#b3ff00" stroke="#fff" stroke-width="0.5"/>
<circle cx="381.2" cy="164.3" r="1.8" fill="#daff00" stroke="#fff" stroke-width="0.5"/>
<circle cx="376.2" cy="167.7" r="1.8" fill="#c9ff00" stroke="#fff" stroke-width="0.5"/>
<circle cx="387.4" cy="164.3" r="1.8" fill="#ffe600" stroke="#fff" stroke-width="0.5"/>
<circle cx="384.6" cy="167.1" r="1.8" fill="#ffe600" stroke="#fff" stroke-width="0.5"/>
<circle cx="383.5" cy="169.4" r="1.8" fill="#ffdc00" stroke="#fff" stroke-width="0.5"/>
<circle cx="386.3" cy="170.5" r="1.8" fill="#ffb700" stroke="#fff" stroke-width="0.5"/>
<circle cx="382.4" cy="172.2" r="1.8" fill="#ffcd00" stroke="#fff" stroke-width="0.5"/>
<circle cx="393.0" cy="170.5" r="1.8" fill="#ff7b00" stroke="#fff" stroke-width="0.5"/>
<circle cx="388.5" cy="173.3" r="1.8" fill="#ff8900" stroke="#fff" stroke-width="0.5"/>
<circle cx="377.3" cy="172.8" r="1.8" fill="#fbf100" stroke="#fff" stroke-width="0.5"/>
<circle cx="380.7" cy="173.9" r="1.8" fill="#ffcd00" stroke="#fff" stroke-width="0.5"/>
<circle cx="374.5" cy="176.1" r="1.8" fill="#fced00" stroke="#fff" stroke-width="0.5"/>
<circle cx="371.7" cy="176.1" r="1.8" fill="#f2ff00" stroke="#fff" stroke-width="0.5"/>
<circle cx="378.4" cy="177.2" r="1.8" fill="#ffc300" stroke="#fff" stroke-width="0.5"/>
<circle cx="372.2" cy="179.5" r="1.8" fill="#ffe500" stroke="#fff" stroke-width="0.5"/>
<circle cx="374.5" cy="182.9" r="1.8" fill="#ffb100" stroke="#fff" stroke-width="0.5"/>
<circle cx="380.7" cy="182.9" r="1.8" fill="#ff7a00" stroke="#fff" stroke-width="0.5"/>
<circle cx="397.5" cy="179.5" r="1.8" fill="#ff2100" stroke="#fff" stroke-width="0.5"/>
<circle cx="400.3" cy="179.2" r="1.8" fill="#ff1400" stroke="#fff" stroke-width="0.5"/>
<circle cx="395.3" cy="182.9" r="1.8" fill="#ff1b00" stroke="#fff" stroke-width="0.5"/>
<circle cx="360.7" cy="168.0" r="1.8" fill="#00d718" stroke="#fff" stroke-width="0.5"/>
<circle cx="363.9" cy="170.3" r="1.8" fill="#34ee00" stroke="#fff" stroke-width="0.5"/>
<circle cx="360.7" cy="173.3" r="1.8" fill="#32ee00" stroke="#fff" stroke-width="0.5"/>
<circle cx="357.2" cy="178.6" r="1.8" fill="#51f400" stroke="#fff" stroke-width="0.5"/>
<circle cx="366.0" cy="173.9" r="1.8" fill="#95ff00" stroke="#fff" stroke-width="0.5"/>
<circle cx="367.8" cy="176.8" r="1.8" fill="#d1ff00" stroke="#fff" stroke-width="0.5"/>
<circle cx="364.3" cy="176.8" r="1.8" fill="#a5ff00" stroke="#fff" stroke-width="0.5"/>
<circle cx="349.5" cy="186.2" r="1.8" fill="#4ff400" stroke="#fff" stroke-width="0.5"/>
<circle cx="353.0" cy="185.7" r="1.8" fill="#85fe00" stroke="#fff" stroke-width="0.5"/>
<circle cx="356.6" cy="185.1" r="1.8" fill="#adff00" stroke="#fff" stroke-width="0.5"/>
<circle cx="359.0" cy="188.0" r="1.8" fill="#eaff00" stroke="#fff" stroke-width="0.5"/>
<circle cx="362.5" cy="186.8" r="1.8" fill="#f8f600" stroke="#fff" stroke-width="0.5"/>
<circle cx="364.8" cy="183.9" r="1.8" fill="#f6fa00" stroke="#fff" stroke-width="0.5"/>
<circle cx="367.2" cy="183.9" r="1.8" fill="#feea00" stroke="#fff" stroke-width="0.5"/>
<circle cx="370.7" cy="183.9" r="1.8" fill="#ffcd00" stroke="#fff" stroke-width="0.5"/>
<circle cx="344.2" cy="190.4" r="1.8" fill="#3cf000" stroke="#fff" stroke-width="0.5"/>
<circle cx="341.2" cy="192.7" r="1.8" fill="#31ee01" stroke="#fff" stroke-width="0.5"/>
<circle cx="348.3" cy="190.4" r="1.8" fill="#85fe00" stroke="#fff" stroke-width="0.5"/>
<circle cx="351.3" cy="188.6" r="1.8" fill="#96ff00" stroke="#fff" stroke-width="0.5"/>
<circle cx="355.4" cy="193.3" r="1.8" fill="#f6fa00" stroke="#fff" stroke-width="0.5"/>
<circle cx="360.7" cy="193.3" r="1.8" fill="#ffd200" stroke="#fff" stroke-width="0.5"/>
<circle cx="364.8" cy="191.6" r="1.8" fill="#ffbb00" stroke="#fff" stroke-width="0.5"/>
<circle cx="364.3" cy="195.1" r="1.8" fill="#ff9d00" stroke="#fff" stroke-width="0.5"/>
<circle cx="368.4" cy="198.0" r="1.8" fill="#ff6500" stroke="#fff" stroke-width="0.5"/>
<circle cx="370.2" cy="194.5" r="1.8" fill="#ff7100" stroke="#fff" stroke-width="0.5"/>
<circle cx="373.7" cy="191.6" r="1.8" fill="#ff6d00" stroke="#fff" stroke-width="0.5"/>
<circle cx="359.5" cy="198.6" r="1.8" fill="#ffa900" stroke="#fff" stroke-width="0.5"/>
<circle cx="354.8" cy="199.2" r="1.8" fill="#ffd200" stroke="#fff" stroke-width="0.5"/>
<circle cx="351.9" cy="201.6" r="1.8" fill="#ffd600" stroke="#fff" stroke-width="0.5"/>
<circle cx="347.7" cy="199.2" r="1.8" fill="#e9ff00" stroke="#fff" stroke-width="0.5"/>
<circle cx="346.0" cy="202.8" r="1.8" fill="#f7f900" stroke="#fff" stroke-width="0.5"/>
<circle cx="343.6" cy="206.3" r="1.8" fill="#faf200" stroke="#fff" stroke-width="0.5"/>
<circle cx="341.8" cy="210.4" r="1.8" fill="#ffe000" stroke="#fff" stroke-width="0.5"/>
<circle cx="338.9" cy="193.3" r="1.8" fill="#1fe906" stroke="#fff" stroke-width="0.5"/>
<circle cx="338.3" cy="196.9" r="1.8" fill="#47f200" stroke="#fff" stroke-width="0.5"/>
<circle cx="334.2" cy="200.4" r="1.8" fill="#3df000" stroke="#fff" stroke-width="0.5"/>
<circle cx="331.8" cy="205.1" r="1.8" fill="#66f800" stroke="#fff" stroke-width="0.5"/>
<circle cx="329.4" cy="209.3" r="1.8" fill="#86ff00" stroke="#fff" stroke-width="0.5"/>
<circle cx="325.9" cy="213.4" r="1.8" fill="#8fff00" stroke="#fff" stroke-width="0.5"/>
<circle cx="323.5" cy="216.9" r="1.8" fill="#9eff00" stroke="#fff" stroke-width="0.5"/>
<circle cx="323.0" cy="219.9" r="1.8" fill="#bfff00" stroke="#fff" stroke-width="0.5"/>
<circle cx="326.5" cy="220.5" r="1.8" fill="#ebff00" stroke="#fff" stroke-width="0.5"/>
<circle cx="330.0" cy="221.7" r="1.8" fill="#ffe400" stroke="#fff" stroke-width="0.5"/>
<circle cx="335.3" cy="217.5" r="1.8" fill="#ffdb00" stroke="#fff" stroke-width="0.5"/>
<circle cx="337.7" cy="213.4" r="1.8" fill="#fee900" stroke="#fff" stroke-width="0.5"/>
<circle cx="340.7" cy="209.3" r="1.8" fill="#fbf100" stroke="#fff" stroke-width="0.5"/>
<circle cx="335.3" cy="209.8" r="1.8" fill="#d7ff00" stroke="#fff" stroke-width="0.5"/>
<circle cx="335.9" cy="205.1" r="1.8" fill="#a5ff00" stroke="#fff" stroke-width="0.5"/>
<circle cx="339.5" cy="202.8" r="1.8" fill="#b6ff00" stroke="#fff" stroke-width="0.5"/>
<circle cx="342.4" cy="200.4" r="1.8" fill="#bdff00" stroke="#fff" stroke-width="0.5"/>
<circle cx="343.6" cy="196.9" r="1.8" fill="#9eff00" stroke="#fff" stroke-width="0.5"/>
<circle cx="347.1" cy="195.1" r="1.8" fill="#b5ff00" stroke="#fff" stroke-width="0.5"/>
<circle cx="350.7" cy="195.7" r="1.8" fill="#e4ff00" stroke="#fff" stroke-width="0.5"/>
<circle cx="328.9" cy="214.6" r="1.8" fill="#c7ff00" stroke="#fff" stroke-width="0.5"/>
<circle cx="332.4" cy="213.4" r="1.8" fill="#dfff00" stroke="#fff" stroke-width="0.5"/>
<circle cx="327.1" cy="216.9" r="1.8" fill="#ccff00" stroke="#fff" stroke-width="0.5"/>
<circle cx="333.0" cy="209.3" r="1.8" fill="#b7ff00" stroke="#fff" stroke-width="0.5"/>
<circle cx="385.4" cy="169.2" r="1.8" fill="#ffce00" stroke="#fff" stroke-width="0.5"/>
<circle cx="383.1" cy="173.4" r="1.8" fill="#ffba00" stroke="#fff" stroke-width="0.5"/>
<circle cx="369.0" cy="175.3" r="1.8" fill="#ceff00" stroke="#fff" stroke-width="0.5"/>
<circle cx="374.2" cy="178.6" r="1.8" fill="#ffdc00" stroke="#fff" stroke-width="0.5"/>
<circle cx="378.4" cy="180.0" r="1.8" fill="#ffa700" stroke="#fff" stroke-width="0.5"/>
<circle cx="368.1" cy="179.0" r="1.8" fill="#eaff00" stroke="#fff" stroke-width="0.5"/>
<circle cx="367.2" cy="181.4" r="1.8" fill="#f6fb00" stroke="#fff" stroke-width="0.5"/>
<circle cx="363.4" cy="190.3" r="1.8" fill="#ffd400" stroke="#fff" stroke-width="0.5"/>
<circle cx="367.2" cy="194.9" r="1.8" fill="#ff8600" stroke="#fff" stroke-width="0.5"/>
<circle cx="375.6" cy="194.0" r="1.8" fill="#ff4e00" stroke="#fff" stroke-width="0.5"/>
<circle cx="379.8" cy="194.5" r="1.8" fill="#ff3000" stroke="#fff" stroke-width="0.5"/>
<circle cx="387.8" cy="192.6" r="1.8" fill="#ff1200" stroke="#fff" stroke-width="0.5"/>
<circle cx="399.9" cy="186.0" r="1.8" fill="#ff0300" stroke="#fff" stroke-width="0.5"/>
<circle cx="357.8" cy="197.3" r="1.8" fill="#ffc800" stroke="#fff" stroke-width="0.5"/>
<circle cx="387.3" cy="172.7" r="1.8" fill="#ff9800" stroke="#fff" stroke-width="0.5"/>
<circle cx="360.3" cy="188.4" r="1.8" fill="#f6fa00" stroke="#fff" stroke-width="0.5"/>
<line x1="321.0" y1="5.2" x2="543.4" y2="5.2" stroke="#333" stroke-width="1.25"/>
<line x1="543.4" y1="4.6" x2="543.4" y2="227.4" stroke="#606060" stroke-width="1.25"/>
<line x1="321.0" y1="4.6" x2="321.0" y2="227.4" stroke="#484848" stroke-width="1.25"/>
<line x1="320.4" y1="226.8" x2="544.0" y2="226.8" stroke="#484848" stroke-width="1.25"/>
<line x1="321.0" y1="226.8" x2="321.0" y2="228.4" stroke="#444" stroke-width="0.9"/>
<line x1="319.4" y1="226.8" x2="321.0" y2="226.8" stroke="#444" stroke-width="0.9"/>
<line x1="336.9" y1="226.8" x2="336.9" y2="228.4" stroke="#444" stroke-width="0.9"/>
<line x1="319.4" y1="211.0" x2="321.0" y2="211.0" stroke="#444" stroke-width="0.9"/>
<line x1="352.8" y1="226.8" x2="352.8" y2="228.4" stroke="#444" stroke-width="0.9"/>
<line x1="319.4" y1="195.1" x2="321.0" y2="195.1" stroke="#444" stroke-width="0.9"/>
<line x1="368.7" y1="226.8" x2="368.7" y2="228.4" stroke="#444" stroke-width="0.9"/>
<line x1="319.4" y1="179.3" x2="321.0" y2="179.3" stroke="#444" stroke-width="0.9"/>
<line x1="384.5" y1="226.8" x2="384.5" y2="228.4" stroke="#444" stroke-width="0.9"/>
<line x1="319.4" y1="163.5" x2="321.0" y2="163.5" stroke="#444" stroke-width="0.9"/>
<line x1="400.4" y1="226.8" x2="400.4" y2="228.4" stroke="#444" stroke-width="0.9"/>
<line x1="319.4" y1="147.7" x2="321.0" y2="147.7" stroke="#444" stroke-width="0.9"/>
<line x1="416.3" y1="226.8" x2="416.3" y2="228.4" stroke="#444" stroke-width="0.9"/>
<line x1="319.4" y1="131.8" x2="321.0" y2="131.8" stroke="#444" stroke-width="0.9"/>
<line x1="432.2" y1="226.8" x2="432.2" y2="228.4" stroke="#444" stroke-width="0.9"/>
<line x1="319.4" y1="116.0" x2="321.0" y2="116.0" stroke="#444" stroke-width="0.9"/>
<line x1="448.1" y1="226.8" x2="448.1" y2="228.4" stroke="#444" stroke-width="0.9"/>
<line x1="319.4" y1="100.2" x2="321.0" y2="100.2" stroke="#444" stroke-width="0.9"/>
<line x1="464.0" y1="226.8" x2="464.0" y2="228.4" stroke="#444" stroke-width="0.9"/>
<line x1="319.4" y1="84.3" x2="321.0" y2="84.3" stroke="#444" stroke-width="0.9"/>
<line x1="479.9" y1="226.8" x2="479.9" y2="228.4" stroke="#444" stroke-width="0.9"/>
<line x1="319.4" y1="68.5" x2="321.0" y2="68.5" stroke="#444" stroke-width="0.9"/>
<line x1="495.7" y1="226.8" x2="495.7" y2="228.4" stroke="#444" stroke-width="0.9"/>
<line x1="319.4" y1="52.7" x2="321.0" y2="52.7" stroke="#444" stroke-width="0.9"/>
<line x1="511.6" y1="226.8" x2="511.6" y2="228.4" stroke="#444" stroke-width="0.9"/>
<line x1="319.4" y1="36.9" x2="321.0" y2="36.9" stroke="#444" stroke-width="0.9"/>
<line x1="527.5" y1="226.8" x2="527.5" y2="228.4" stroke="#444" stroke-width="0.9"/>
<line x1="319.4" y1="21.0" x2="321.0" y2="21.0" stroke="#444" stroke-width="0.9"/>
<line x1="543.4" y1="226.8" x2="543.4" y2="228.4" stroke="#444" stroke-width="0.9"/>
<line x1="319.4" y1="5.2" x2="321.0" y2="5.2" stroke="#444" stroke-width="0.9"/>
<text x="321.00" y="240.70" font-family='"Liberation Sans", sans-serif' font-size="8.2" font-weight="bold" text-anchor="middle" fill="#000" stroke="#000" stroke-width="0.22" >0</text>
<text x="315.80" y="230.20" font-family='"Liberation Serif", serif' font-size="8.9" font-weight="bold" text-anchor="end" fill="#000" stroke="#000" stroke-width="0.22" >0</text>
<text x="352.77" y="240.70" font-family='"Liberation Sans", sans-serif' font-size="8.2" font-weight="bold" text-anchor="middle" fill="#000" stroke="#000" stroke-width="0.22" >2</text>
<text x="315.80" y="198.54" font-family='"Liberation Serif", serif' font-size="8.9" font-weight="bold" text-anchor="end" fill="#000" stroke="#000" stroke-width="0.22" >2</text>
<text x="384.54" y="240.70" font-family='"Liberation Sans", sans-serif' font-size="8.2" font-weight="bold" text-anchor="middle" fill="#000" stroke="#000" stroke-width="0.22" >4</text>
<text x="315.80" y="166.89" font-family='"Liberation Serif", serif' font-size="8.9" font-weight="bold" text-anchor="end" fill="#000" stroke="#000" stroke-width="0.22" >4</text>
<text x="416.31" y="240.70" font-family='"Liberation Sans", sans-serif' font-size="8.2" font-weight="bold" text-anchor="middle" fill="#000" stroke="#000" stroke-width="0.22" >6</text>
<text x="315.80" y="135.23" font-family='"Liberation Serif", serif' font-size="8.9" font-weight="bold" text-anchor="end" fill="#000" stroke="#000" stroke-width="0.22" >6</text>
<text x="448.09" y="240.70" font-family='"Liberation Sans", sans-serif' font-size="8.2" font-weight="bold" text-anchor="middle" fill="#000" stroke="#000" stroke-width="0.22" >8</text>
<text x="315.80" y="103.57" font-family='"Liberation Serif", serif' font-size="8.9" font-weight="bold" text-anchor="end" fill="#000" stroke="#000" stroke-width="0.22" >8</text>
<text x="479.86" y="240.70" font-family='"Liberation Sans", sans-serif' font-size="8.2" font-weight="bold" text-anchor="middle" fill="#000" stroke="#000" stroke-width="0.22" >10</text>
<text x="315.80" y="71.91" font-family='"Liberation Serif", serif' font-size="8.9" font-weight="bold" text-anchor="end" fill="#000" stroke="#000" stroke-width="0.22" >10</text>
<text x="511.63" y="240.70" font-family='"Liberation Sans", sans-serif' font-size="8.2" font-weight="bold" text-anchor="middle" fill="#000" stroke="#000" stroke-width="0.22" >12</text>
<text x="315.80" y="40.26" font-family='"Liberation Serif", serif' font-size="8.9" font-weight="bold" text-anchor="end" fill="#000" stroke="#000" stroke-width="0.22" >12</text>
<text x="543.40" y="240.70" font-family='"Liberation Sans", sans-serif' font-size="8.2" font-weight="bold" text-anchor="middle" fill="#000" stroke="#000" stroke-width="0.22" >14</text>
<text x="315.80" y="8.60" font-family='"Liberation Serif", serif' font-size="8.9" font-weight="bold" text-anchor="end" fill="#000" stroke="#000" stroke-width="0.22" >14</text>
<rect x="522.6" y="76.7" width="9.0" height="147.4" fill="url(#cbg)"/>
<text x="534.20" y="90.08" font-family='"Liberation Sans", sans-serif' font-size="6.8" font-weight="bold" text-anchor="start" fill="#000" stroke="#000" stroke-width="0.22" >2</text>
<text x="534.20" y="114.49" font-family='"Liberation Sans", sans-serif' font-size="6.8" font-weight="bold" text-anchor="start" fill="#000" stroke="#000" stroke-width="0.22" >1</text>
<text x="534.20" y="138.89" font-family='"Liberation Sans", sans-serif' font-size="6.8" font-weight="bold" text-anchor="start" fill="#000" stroke="#000" stroke-width="0.22" >0</text>
<text x="534.20" y="163.29" font-family='"Liberation Sans", sans-serif' font-size="6.8" font-weight="bold" text-anchor="start" fill="#000" stroke="#000" stroke-width="0.22" >-1</text>
<text x="534.20" y="187.70" font-family='"Liberation Sans", sans-serif' font-size="6.8" font-weight="bold" text-anchor="start" fill="#000" stroke="#000" stroke-width="0.22" >-2</text>
<text x="534.20" y="212.10" font-family='"Liberation Sans", sans-serif' font-size="6.8" font-weight="bold" text-anchor="start" fill="#000" stroke="#000" stroke-width="0.22" >-3</text>
<line x1="31.3" y1="501.4" x2="253.8" y2="280.4" stroke="#404040" stroke-width="1.1" stroke-dasharray="4 3.42"/>
<line x1="31.3" y1="446.1" x2="86.9" y2="446.1" stroke="#6060ff" stroke-width="1.45" stroke-dasharray="3.7 3.8"/>
<line x1="86.9" y1="446.1" x2="86.9" y2="501.4" stroke="#6060ff" stroke-width="1.45" stroke-dasharray="3.7 3.8"/>
<circle cx="38.8" cy="485.2" r="1.6" fill="#ff9500" stroke="#fff" stroke-width="0.8"/>
<circle cx="40.0" cy="490.0" r="1.6" fill="#ff5e00" stroke="#fff" stroke-width="0.8"/>
<circle cx="65.0" cy="466.6" r="1.6" fill="#ff5100" stroke="#fff" stroke-width="0.8"/>
<circle cx="64.1" cy="457.5" r="1.6" fill="#ffb300" stroke="#fff" stroke-width="0.8"/>
<circle cx="55.3" cy="476.8" r="1.6" fill="#ff4d00" stroke="#fff" stroke-width="0.8"/>
<circle cx="49.5" cy="465.4" r="1.6" fill="#f9f500" stroke="#fff" stroke-width="0.8"/>
<circle cx="56.3" cy="458.4" r="1.6" fill="#f8f700" stroke="#fff" stroke-width="0.8"/>
<circle cx="38.3" cy="490.4" r="1.6" fill="#ff6900" stroke="#fff" stroke-width="0.8"/>
<circle cx="54.8" cy="472.2" r="1.6" fill="#ff7900" stroke="#fff" stroke-width="0.8"/>
<circle cx="48.8" cy="481.6" r="1.6" fill="#ff5c00" stroke="#fff" stroke-width="0.8"/>
<circle cx="40.6" cy="481.2" r="1.6" fill="#ffad00" stroke="#fff" stroke-width="0.8"/>
<circle cx="54.5" cy="460.4" r="1.6" fill="#f8f600" stroke="#fff" stroke-width="0.8"/>
<circle cx="38.2" cy="493.9" r="1.6" fill="#ff4c00" stroke="#fff" stroke-width="0.8"/>
<circle cx="57.5" cy="466.1" r="1.6" fill="#ff9b00" stroke="#fff" stroke-width="0.8"/>
<circle cx="46.4" cy="479.7" r="1.6" fill="#ff8100" stroke="#fff" stroke-width="0.8"/>
<circle cx="63.1" cy="467.2" r="1.6" fill="#ff5c00" stroke="#fff" stroke-width="0.8"/>
<circle cx="43.5" cy="489.4" r="1.6" fill="#ff4500" stroke="#fff" stroke-width="0.8"/>
<circle cx="63.4" cy="470.4" r="1.6" fill="#ff3f00" stroke="#fff" stroke-width="0.8"/>
<circle cx="38.9" cy="481.1" r="1.6" fill="#ffc400" stroke="#fff" stroke-width="0.8"/>
<circle cx="62.1" cy="465.4" r="1.6" fill="#ff7500" stroke="#fff" stroke-width="0.8"/>
<circle cx="45.6" cy="477.1" r="1.6" fill="#ffa400" stroke="#fff" stroke-width="0.8"/>
<circle cx="47.5" cy="475.7" r="1.6" fill="#ff9e00" stroke="#fff" stroke-width="0.8"/>
<circle cx="64.4" cy="468.4" r="1.6" fill="#ff4700" stroke="#fff" stroke-width="0.8"/>
<circle cx="41.7" cy="478.5" r="1.6" fill="#ffc100" stroke="#fff" stroke-width="0.8"/>
<circle cx="37.5" cy="496.6" r="1.6" fill="#ff3c00" stroke="#fff" stroke-width="0.8"/>
<circle cx="62.1" cy="468.4" r="1.6" fill="#ff5b00" stroke="#fff" stroke-width="0.8"/>
<circle cx="47.2" cy="483.5" r="1.6" fill="#ff5900" stroke="#fff" stroke-width="0.8"/>
<circle cx="64.3" cy="462.4" r="1.6" fill="#ff7d00" stroke="#fff" stroke-width="0.8"/>
<circle cx="43.5" cy="481.3" r="1.6" fill="#ff8e00" stroke="#fff" stroke-width="0.8"/>
<circle cx="50.5" cy="479.6" r="1.6" fill="#ff5e00" stroke="#fff" stroke-width="0.8"/>
<circle cx="44.6" cy="484.7" r="1.6" fill="#ff6400" stroke="#fff" stroke-width="0.8"/>
<circle cx="58.4" cy="460.4" r="1.6" fill="#ffd200" stroke="#fff" stroke-width="0.8"/>
<circle cx="58.9" cy="458.6" r="1.6" fill="#ffdf00" stroke="#fff" stroke-width="0.8"/>
<circle cx="52.8" cy="474.4" r="1.6" fill="#ff7700" stroke="#fff" stroke-width="0.8"/>
<circle cx="50.9" cy="466.6" r="1.6" fill="#ffde00" stroke="#fff" stroke-width="0.8"/>
<circle cx="50.6" cy="481.1" r="1.6" fill="#ff5000" stroke="#fff" stroke-width="0.8"/>
<circle cx="44.3" cy="474.4" r="1.6" fill="#ffd200" stroke="#fff" stroke-width="0.8"/>
<circle cx="49.5" cy="477.5" r="1.6" fill="#ff7900" stroke="#fff" stroke-width="0.8"/>
<circle cx="52.2" cy="477.3" r="1.6" fill="#ff6300" stroke="#fff" stroke-width="0.8"/>
<circle cx="58.9" cy="476.5" r="1.6" fill="#ff3400" stroke="#fff" stroke-width="0.8"/>
<circle cx="44.1" cy="483.2" r="1.6" fill="#ff7500" stroke="#fff" stroke-width="0.8"/>
<circle cx="56.9" cy="474.2" r="1.6" fill="#ff5600" stroke="#fff" stroke-width="0.8"/>
<circle cx="43.5" cy="472.2" r="1.6" fill="#fcee00" stroke="#fff" stroke-width="0.8"/>
<circle cx="39.5" cy="482.4" r="1.6" fill="#ffac00" stroke="#fff" stroke-width="0.8"/>
<circle cx="55.9" cy="461.6" r="1.6" fill="#ffde00" stroke="#fff" stroke-width="0.8"/>
<circle cx="47.9" cy="472.2" r="1.6" fill="#ffc300" stroke="#fff" stroke-width="0.8"/>
<circle cx="55.4" cy="465.8" r="1.6" fill="#ffb600" stroke="#fff" stroke-width="0.8"/>
<circle cx="45.2" cy="488.4" r="1.6" fill="#ff3f00" stroke="#fff" stroke-width="0.8"/>
<circle cx="46.8" cy="470.7" r="1.6" fill="#ffde00" stroke="#fff" stroke-width="0.8"/>
<circle cx="53.6" cy="461.6" r="1.6" fill="#faf300" stroke="#fff" stroke-width="0.8"/>
<circle cx="45.8" cy="486.0" r="1.6" fill="#ff4e00" stroke="#fff" stroke-width="0.8"/>
<circle cx="48.1" cy="485.9" r="1.6" fill="#ff3d00" stroke="#fff" stroke-width="0.8"/>
<circle cx="42.7" cy="486.6" r="1.6" fill="#ff6500" stroke="#fff" stroke-width="0.8"/>
<circle cx="47.0" cy="481.7" r="1.6" fill="#ff6900" stroke="#fff" stroke-width="0.8"/>
<circle cx="58.6" cy="468.3" r="1.6" fill="#ff7a00" stroke="#fff" stroke-width="0.8"/>
<circle cx="52.8" cy="463.0" r="1.6" fill="#fcee00" stroke="#fff" stroke-width="0.8"/>
<circle cx="60.7" cy="456.9" r="1.6" fill="#ffde00" stroke="#fff" stroke-width="0.8"/>
<circle cx="52.8" cy="471.9" r="1.6" fill="#ff8f00" stroke="#fff" stroke-width="0.8"/>
<circle cx="49.9" cy="483.1" r="1.6" fill="#ff4400" stroke="#fff" stroke-width="0.8"/>
<circle cx="61.3" cy="473.1" r="1.6" fill="#ff3b00" stroke="#fff" stroke-width="0.8"/>
<circle cx="54.2" cy="475.1" r="1.6" fill="#ff6500" stroke="#fff" stroke-width="0.8"/>
<circle cx="44.8" cy="479.8" r="1.6" fill="#ff9000" stroke="#fff" stroke-width="0.8"/>
<circle cx="39.4" cy="488.2" r="1.6" fill="#ff7300" stroke="#fff" stroke-width="0.8"/>
<circle cx="47.4" cy="487.1" r="1.6" fill="#ff3900" stroke="#fff" stroke-width="0.8"/>
<circle cx="50.0" cy="472.0" r="1.6" fill="#ffac00" stroke="#fff" stroke-width="0.8"/>
<circle cx="40.0" cy="491.5" r="1.6" fill="#ff5100" stroke="#fff" stroke-width="0.8"/>
<circle cx="38.2" cy="483.2" r="1.6" fill="#ffb300" stroke="#fff" stroke-width="0.8"/>
<circle cx="62.6" cy="461.2" r="1.6" fill="#ff9900" stroke="#fff" stroke-width="0.8"/>
<circle cx="40.7" cy="486.8" r="1.6" fill="#ff7400" stroke="#fff" stroke-width="0.8"/>
<circle cx="58.5" cy="471.7" r="1.6" fill="#ff5d00" stroke="#fff" stroke-width="0.8"/>
<circle cx="47.2" cy="467.8" r="1.6" fill="#f9f400" stroke="#fff" stroke-width="0.8"/>
<circle cx="60.5" cy="462.9" r="1.6" fill="#ff9c00" stroke="#fff" stroke-width="0.8"/>
<circle cx="62.8" cy="463.0" r="1.6" fill="#ff8600" stroke="#fff" stroke-width="0.8"/>
<circle cx="55.2" cy="479.0" r="1.6" fill="#ff3c00" stroke="#fff" stroke-width="0.8"/>
<circle cx="55.4" cy="474.3" r="1.6" fill="#ff6100" stroke="#fff" stroke-width="0.8"/>
<circle cx="57.5" cy="469.5" r="1.6" fill="#ff7900" stroke="#fff" stroke-width="0.8"/>
<circle cx="47.8" cy="469.6" r="1.6" fill="#ffdf00" stroke="#fff" stroke-width="0.8"/>
<circle cx="49.1" cy="474.6" r="1.6" fill="#ff9900" stroke="#fff" stroke-width="0.8"/>
<circle cx="40.2" cy="484.6" r="1.6" fill="#ff8d00" stroke="#fff" stroke-width="0.8"/>
<circle cx="60.0" cy="468.4" r="1.6" fill="#ff6d00" stroke="#fff" stroke-width="0.8"/>
<circle cx="41.2" cy="479.9" r="1.6" fill="#ffb500" stroke="#fff" stroke-width="0.8"/>
<circle cx="110.3" cy="355.1" r="1.8" fill="#8855ff" stroke="#fff" stroke-width="0.5"/>
<circle cx="119.4" cy="382.9" r="1.8" fill="#32ee00" stroke="#fff" stroke-width="0.5"/>
<circle cx="124.7" cy="390.4" r="1.8" fill="#f8f700" stroke="#fff" stroke-width="0.5"/>
<circle cx="110.7" cy="402.6" r="1.8" fill="#ebff00" stroke="#fff" stroke-width="0.5"/>
<circle cx="117.0" cy="402.4" r="1.8" fill="#ffd000" stroke="#fff" stroke-width="0.5"/>
<circle cx="103.5" cy="406.2" r="1.8" fill="#beff00" stroke="#fff" stroke-width="0.5"/>
<circle cx="119.4" cy="408.0" r="1.8" fill="#ff7900" stroke="#fff" stroke-width="0.5"/>
<circle cx="126.5" cy="411.0" r="1.8" fill="#ff2900" stroke="#fff" stroke-width="0.5"/>
<circle cx="118.5" cy="414.0" r="1.8" fill="#ff4d00" stroke="#fff" stroke-width="0.5"/>
<circle cx="80.7" cy="420.3" r="1.8" fill="#25ea04" stroke="#fff" stroke-width="0.5"/>
<circle cx="97.5" cy="418.5" r="1.8" fill="#fcef00" stroke="#fff" stroke-width="0.5"/>
<circle cx="97.0" cy="420.6" r="1.8" fill="#ffe000" stroke="#fff" stroke-width="0.5"/>
<circle cx="93.0" cy="421.7" r="1.8" fill="#f7f900" stroke="#fff" stroke-width="0.5"/>
<circle cx="70.9" cy="427.1" r="1.8" fill="#01e010" stroke="#fff" stroke-width="0.5"/>
<circle cx="83.7" cy="427.9" r="1.8" fill="#d9ff00" stroke="#fff" stroke-width="0.5"/>
<circle cx="102.0" cy="427.9" r="1.8" fill="#ff6200" stroke="#fff" stroke-width="0.5"/>
<circle cx="95.4" cy="420.3" r="1.8" fill="#fbf100" stroke="#fff" stroke-width="0.5"/>
<circle cx="80.0" cy="433.6" r="1.8" fill="#f1ff00" stroke="#fff" stroke-width="0.5"/>
<circle cx="80.0" cy="435.4" r="1.8" fill="#faf300" stroke="#fff" stroke-width="0.5"/>
<circle cx="74.5" cy="437.8" r="1.8" fill="#e2ff00" stroke="#fff" stroke-width="0.5"/>
<circle cx="88.9" cy="438.3" r="1.8" fill="#ff7900" stroke="#fff" stroke-width="0.5"/>
<circle cx="61.2" cy="442.7" r="1.8" fill="#5cf600" stroke="#fff" stroke-width="0.5"/>
<circle cx="67.3" cy="445.5" r="1.8" fill="#e8ff00" stroke="#fff" stroke-width="0.5"/>
<circle cx="80.9" cy="445.5" r="1.8" fill="#ff8000" stroke="#fff" stroke-width="0.5"/>
<circle cx="77.2" cy="449.0" r="1.8" fill="#ff8200" stroke="#fff" stroke-width="0.5"/>
<circle cx="79.0" cy="448.1" r="1.8" fill="#ff7900" stroke="#fff" stroke-width="0.5"/>
<circle cx="85.6" cy="449.8" r="1.8" fill="#ff3500" stroke="#fff" stroke-width="0.5"/>
<circle cx="57.5" cy="450.4" r="1.8" fill="#a6ff00" stroke="#fff" stroke-width="0.5"/>
<circle cx="62.2" cy="449.5" r="1.8" fill="#dbff00" stroke="#fff" stroke-width="0.5"/>
<circle cx="65.0" cy="450.0" r="1.8" fill="#f9f500" stroke="#fff" stroke-width="0.5"/>
<circle cx="55.6" cy="452.8" r="1.8" fill="#aeff00" stroke="#fff" stroke-width="0.5"/>
<circle cx="59.4" cy="452.8" r="1.8" fill="#e2ff00" stroke="#fff" stroke-width="0.5"/>
<circle cx="60.3" cy="455.1" r="1.8" fill="#faf100" stroke="#fff" stroke-width="0.5"/>
<circle cx="70.1" cy="450.9" r="1.8" fill="#ffba00" stroke="#fff" stroke-width="0.5"/>
<circle cx="67.8" cy="452.8" r="1.8" fill="#ffbe00" stroke="#fff" stroke-width="0.5"/>
<circle cx="66.4" cy="455.1" r="1.8" fill="#ffb300" stroke="#fff" stroke-width="0.5"/>
<circle cx="69.2" cy="454.6" r="1.8" fill="#ff9900" stroke="#fff" stroke-width="0.5"/>
<circle cx="78.6" cy="453.2" r="1.8" fill="#ff5100" stroke="#fff" stroke-width="0.5"/>
<circle cx="80.9" cy="452.3" r="1.8" fill="#ff4500" stroke="#fff" stroke-width="0.5"/>
<circle cx="52.8" cy="459.8" r="1.8" fill="#e7ff00" stroke="#fff" stroke-width="0.5"/>
<circle cx="61.2" cy="461.2" r="1.8" fill="#ffa800" stroke="#fff" stroke-width="0.5"/>
<circle cx="65.0" cy="459.8" r="1.8" fill="#ff8f00" stroke="#fff" stroke-width="0.5"/>
<circle cx="67.3" cy="460.3" r="1.8" fill="#ff7400" stroke="#fff" stroke-width="0.5"/>
<circle cx="72.5" cy="458.4" r="1.8" fill="#ff5800" stroke="#fff" stroke-width="0.5"/>
<circle cx="74.8" cy="459.3" r="1.8" fill="#ff3d00" stroke="#fff" stroke-width="0.5"/>
<circle cx="79.0" cy="457.9" r="1.8" fill="#ff2b00" stroke="#fff" stroke-width="0.5"/>
<circle cx="78.6" cy="461.2" r="1.8" fill="#ff1800" stroke="#fff" stroke-width="0.5"/>
<circle cx="65.9" cy="464.0" r="1.8" fill="#ff6000" stroke="#fff" stroke-width="0.5"/>
<circle cx="73.9" cy="463.1" r="1.8" fill="#ff2a00" stroke="#fff" stroke-width="0.5"/>
<circle cx="72.9" cy="465.9" r="1.8" fill="#ff1e00" stroke="#fff" stroke-width="0.5"/>
<circle cx="66.9" cy="468.2" r="1.8" fill="#ff3700" stroke="#fff" stroke-width="0.5"/>
<circle cx="72.0" cy="468.7" r="1.8" fill="#ff1300" stroke="#fff" stroke-width="0.5"/>
<circle cx="50.9" cy="464.0" r="1.8" fill="#f9f500" stroke="#fff" stroke-width="0.5"/>
<circle cx="54.7" cy="464.0" r="1.8" fill="#ffd300" stroke="#fff" stroke-width="0.5"/>
<circle cx="57.5" cy="463.5" r="1.8" fill="#ffb900" stroke="#fff" stroke-width="0.5"/>
<circle cx="59.4" cy="465.9" r="1.8" fill="#ff8a00" stroke="#fff" stroke-width="0.5"/>
<circle cx="53.7" cy="466.8" r="1.8" fill="#ffbe00" stroke="#fff" stroke-width="0.5"/>
<circle cx="56.6" cy="467.8" r="1.8" fill="#ff9300" stroke="#fff" stroke-width="0.5"/>
<circle cx="54.3" cy="484.7" r="1.8" fill="#ff1c00" stroke="#fff" stroke-width="0.5"/>
<circle cx="56.8" cy="481.7" r="1.8" fill="#ff2000" stroke="#fff" stroke-width="0.5"/>
<circle cx="58.8" cy="479.8" r="1.8" fill="#ff1f00" stroke="#fff" stroke-width="0.5"/>
<circle cx="60.8" cy="478.3" r="1.8" fill="#ff1c00" stroke="#fff" stroke-width="0.5"/>
<circle cx="62.9" cy="476.0" r="1.8" fill="#ff1d00" stroke="#fff" stroke-width="0.5"/>
<circle cx="65.2" cy="473.8" r="1.8" fill="#ff1d00" stroke="#fff" stroke-width="0.5"/>
<circle cx="67.7" cy="476.8" r="1.8" fill="#ff0700" stroke="#fff" stroke-width="0.5"/>
<circle cx="69.2" cy="478.3" r="1.8" fill="#ff0000" stroke="#fff" stroke-width="0.5"/>
<circle cx="70.7" cy="473.3" r="1.8" fill="#ff0900" stroke="#fff" stroke-width="0.5"/>
<circle cx="48.4" cy="489.7" r="1.8" fill="#ff2200" stroke="#fff" stroke-width="0.5"/>
<circle cx="57.8" cy="454.9" r="1.8" fill="#e8ff00" stroke="#fff" stroke-width="0.5"/>
<circle cx="71.3" cy="459.0" r="1.8" fill="#ff5d00" stroke="#fff" stroke-width="0.5"/>
<circle cx="53.0" cy="465.0" r="1.8" fill="#ffd900" stroke="#fff" stroke-width="0.5"/>
<circle cx="56.0" cy="463.5" r="1.8" fill="#ffcb00" stroke="#fff" stroke-width="0.5"/>
<circle cx="58.2" cy="465.0" r="1.8" fill="#ff9f00" stroke="#fff" stroke-width="0.5"/>
<circle cx="48.5" cy="467.2" r="1.8" fill="#fcee00" stroke="#fff" stroke-width="0.5"/>
<circle cx="51.5" cy="468.0" r="1.8" fill="#ffca00" stroke="#fff" stroke-width="0.5"/>
<circle cx="54.5" cy="469.5" r="1.8" fill="#ff9600" stroke="#fff" stroke-width="0.5"/>
<circle cx="50.0" cy="470.2" r="1.8" fill="#ffc200" stroke="#fff" stroke-width="0.5"/>
<circle cx="60.5" cy="470.2" r="1.8" fill="#ff5900" stroke="#fff" stroke-width="0.5"/>
<circle cx="62.7" cy="471.7" r="1.8" fill="#ff3b00" stroke="#fff" stroke-width="0.5"/>
<circle cx="59.7" cy="472.5" r="1.8" fill="#ff4c00" stroke="#fff" stroke-width="0.5"/>
<circle cx="41.0" cy="474.0" r="1.8" fill="#f9f400" stroke="#fff" stroke-width="0.5"/>
<circle cx="45.5" cy="472.5" r="1.8" fill="#ffd900" stroke="#fff" stroke-width="0.5"/>
<circle cx="47.0" cy="474.0" r="1.8" fill="#ffb800" stroke="#fff" stroke-width="0.5"/>
<circle cx="39.4" cy="479.8" r="1.8" fill="#ffcd00" stroke="#fff" stroke-width="0.5"/>
<line x1="31.3" y1="280.4" x2="253.8" y2="280.4" stroke="#333" stroke-width="1.25"/>
<line x1="253.8" y1="279.8" x2="253.8" y2="502.0" stroke="#606060" stroke-width="1.25"/>
<line x1="31.3" y1="279.8" x2="31.3" y2="502.0" stroke="#484848" stroke-width="1.25"/>
<line x1="30.7" y1="501.4" x2="254.4" y2="501.4" stroke="#484848" stroke-width="1.25"/>
<line x1="31.3" y1="501.4" x2="31.3" y2="503.0" stroke="#444" stroke-width="0.9"/>
<line x1="29.7" y1="501.4" x2="31.3" y2="501.4" stroke="#444" stroke-width="0.9"/>
<line x1="40.6" y1="501.4" x2="40.6" y2="503.0" stroke="#444" stroke-width="0.9"/>
<line x1="29.7" y1="492.2" x2="31.3" y2="492.2" stroke="#444" stroke-width="0.9"/>
<line x1="49.8" y1="501.4" x2="49.8" y2="503.0" stroke="#444" stroke-width="0.9"/>
<line x1="29.7" y1="483.0" x2="31.3" y2="483.0" stroke="#444" stroke-width="0.9"/>
<line x1="59.1" y1="501.4" x2="59.1" y2="503.0" stroke="#444" stroke-width="0.9"/>
<line x1="29.7" y1="473.8" x2="31.3" y2="473.8" stroke="#444" stroke-width="0.9"/>
<line x1="68.4" y1="501.4" x2="68.4" y2="503.0" stroke="#444" stroke-width="0.9"/>
<line x1="29.7" y1="464.6" x2="31.3" y2="464.6" stroke="#444" stroke-width="0.9"/>
<line x1="77.7" y1="501.4" x2="77.7" y2="503.0" stroke="#444" stroke-width="0.9"/>
<line x1="29.7" y1="455.4" x2="31.3" y2="455.4" stroke="#444" stroke-width="0.9"/>
<line x1="86.9" y1="501.4" x2="86.9" y2="503.0" stroke="#444" stroke-width="0.9"/>
<line x1="29.7" y1="446.1" x2="31.3" y2="446.1" stroke="#444" stroke-width="0.9"/>
<line x1="96.2" y1="501.4" x2="96.2" y2="503.0" stroke="#444" stroke-width="0.9"/>
<line x1="29.7" y1="436.9" x2="31.3" y2="436.9" stroke="#444" stroke-width="0.9"/>
<line x1="105.5" y1="501.4" x2="105.5" y2="503.0" stroke="#444" stroke-width="0.9"/>
<line x1="29.7" y1="427.7" x2="31.3" y2="427.7" stroke="#444" stroke-width="0.9"/>
<line x1="114.7" y1="501.4" x2="114.7" y2="503.0" stroke="#444" stroke-width="0.9"/>
<line x1="29.7" y1="418.5" x2="31.3" y2="418.5" stroke="#444" stroke-width="0.9"/>
<line x1="124.0" y1="501.4" x2="124.0" y2="503.0" stroke="#444" stroke-width="0.9"/>
<line x1="29.7" y1="409.3" x2="31.3" y2="409.3" stroke="#444" stroke-width="0.9"/>
<line x1="133.3" y1="501.4" x2="133.3" y2="503.0" stroke="#444" stroke-width="0.9"/>
<line x1="29.7" y1="400.1" x2="31.3" y2="400.1" stroke="#444" stroke-width="0.9"/>
<line x1="142.6" y1="501.4" x2="142.6" y2="503.0" stroke="#444" stroke-width="0.9"/>
<line x1="29.7" y1="390.9" x2="31.3" y2="390.9" stroke="#444" stroke-width="0.9"/>
<line x1="151.8" y1="501.4" x2="151.8" y2="503.0" stroke="#444" stroke-width="0.9"/>
<line x1="29.7" y1="381.7" x2="31.3" y2="381.7" stroke="#444" stroke-width="0.9"/>
<line x1="161.1" y1="501.4" x2="161.1" y2="503.0" stroke="#444" stroke-width="0.9"/>
<line x1="29.7" y1="372.5" x2="31.3" y2="372.5" stroke="#444" stroke-width="0.9"/>
<line x1="170.4" y1="501.4" x2="170.4" y2="503.0" stroke="#444" stroke-width="0.9"/>
<line x1="29.7" y1="363.3" x2="31.3" y2="363.3" stroke="#444" stroke-width="0.9"/>
<line x1="179.6" y1="501.4" x2="179.6" y2="503.0" stroke="#444" stroke-width="0.9"/>
<line x1="29.7" y1="354.1" x2="31.3" y2="354.1" stroke="#444" stroke-width="0.9"/>
<line x1="188.9" y1="501.4" x2="188.9" y2="503.0" stroke="#444" stroke-width="0.9"/>
<line x1="29.7" y1="344.9" x2="31.3" y2="344.9" stroke="#444" stroke-width="0.9"/>
<line x1="198.2" y1="501.4" x2="198.2" y2="503.0" stroke="#444" stroke-width="0.9"/>
<line x1="29.7" y1="335.6" x2="31.3" y2="335.6" stroke="#444" stroke-width="0.9"/>
<line x1="207.4" y1="501.4" x2="207.4" y2="503.0" stroke="#444" stroke-width="0.9"/>
<line x1="29.7" y1="326.4" x2="31.3" y2="326.4" stroke="#444" stroke-width="0.9"/>
<line x1="216.7" y1="501.4" x2="216.7" y2="503.0" stroke="#444" stroke-width="0.9"/>
<line x1="29.7" y1="317.2" x2="31.3" y2="317.2" stroke="#444" stroke-width="0.9"/>
<line x1="226.0" y1="501.4" x2="226.0" y2="503.0" stroke="#444" stroke-width="0.9"/>
<line x1="29.7" y1="308.0" x2="31.3" y2="308.0" stroke="#444" stroke-width="0.9"/>
<line x1="235.3" y1="501.4" x2="235.3" y2="503.0" stroke="#444" stroke-width="0.9"/>
<line x1="29.7" y1="298.8" x2="31.3" y2="298.8" stroke="#444" stroke-width="0.9"/>
<line x1="244.5" y1="501.4" x2="244.5" y2="503.0" stroke="#444" stroke-width="0.9"/>
<line x1="29.7" y1="289.6" x2="31.3" y2="289.6" stroke="#444" stroke-width="0.9"/>
<line x1="253.8" y1="501.4" x2="253.8" y2="503.0" stroke="#444" stroke-width="0.9"/>
<line x1="29.7" y1="280.4" x2="31.3" y2="280.4" stroke="#444" stroke-width="0.9"/>
<text x="31.30" y="515.80" font-family='"Liberation Sans", sans-serif' font-size="8.2" font-weight="bold" text-anchor="middle" fill="#000" stroke="#000" stroke-width="0.22" >0</text>
<text x="26.10" y="504.30" font-family='"Liberation Sans", sans-serif' font-size="8.2" font-weight="bold" text-anchor="end" fill="#000" stroke="#000" stroke-width="0.22" >0</text>
<text x="49.84" y="515.80" font-family='"Liberation Sans", sans-serif' font-size="8.2" font-weight="bold" text-anchor="middle" fill="#000" stroke="#000" stroke-width="0.22" >2</text>
<text x="26.10" y="485.88" font-family='"Liberation Sans", sans-serif' font-size="8.2" font-weight="bold" text-anchor="end" fill="#000" stroke="#000" stroke-width="0.22" >2</text>
<text x="68.38" y="515.80" font-family='"Liberation Sans", sans-serif' font-size="8.2" font-weight="bold" text-anchor="middle" fill="#000" stroke="#000" stroke-width="0.22" >4</text>
<text x="26.10" y="467.47" font-family='"Liberation Sans", sans-serif' font-size="8.2" font-weight="bold" text-anchor="end" fill="#000" stroke="#000" stroke-width="0.22" >4</text>
<text x="86.92" y="515.80" font-family='"Liberation Sans", sans-serif' font-size="8.2" font-weight="bold" text-anchor="middle" fill="#000" stroke="#000" stroke-width="0.22" >6</text>
<text x="26.10" y="449.05" font-family='"Liberation Sans", sans-serif' font-size="8.2" font-weight="bold" text-anchor="end" fill="#000" stroke="#000" stroke-width="0.22" >6</text>
<text x="105.47" y="515.80" font-family='"Liberation Sans", sans-serif' font-size="8.2" font-weight="bold" text-anchor="middle" fill="#000" stroke="#000" stroke-width="0.22" >8</text>
<text x="26.10" y="430.63" font-family='"Liberation Sans", sans-serif' font-size="8.2" font-weight="bold" text-anchor="end" fill="#000" stroke="#000" stroke-width="0.22" >8</text>
<text x="124.01" y="515.80" font-family='"Liberation Sans", sans-serif' font-size="8.2" font-weight="bold" text-anchor="middle" fill="#000" stroke="#000" stroke-width="0.22" >10</text>
<text x="26.10" y="412.22" font-family='"Liberation Sans", sans-serif' font-size="8.2" font-weight="bold" text-anchor="end" fill="#000" stroke="#000" stroke-width="0.22" >10</text>
<text x="142.55" y="515.80" font-family='"Liberation Sans", sans-serif' font-size="8.2" font-weight="bold" text-anchor="middle" fill="#000" stroke="#000" stroke-width="0.22" >12</text>
<text x="26.10" y="393.80" font-family='"Liberation Sans", sans-serif' font-size="8.2" font-weight="bold" text-anchor="end" fill="#000" stroke="#000" stroke-width="0.22" >12</text>
<text x="161.09" y="515.80" font-family='"Liberation Sans", sans-serif' font-size="8.2" font-weight="bold" text-anchor="middle" fill="#000" stroke="#000" stroke-width="0.22" >14</text>
<text x="26.10" y="375.38" font-family='"Liberation Sans", sans-serif' font-size="8.2" font-weight="bold" text-anchor="end" fill="#000" stroke="#000" stroke-width="0.22" >14</text>
<text x="179.63" y="515.80" font-family='"Liberation Sans", sans-serif' font-size="8.2" font-weight="bold" text-anchor="middle" fill="#000" stroke="#000" stroke-width="0.22" >16</text>
<text x="26.10" y="356.97" font-family='"Liberation Sans", sans-serif' font-size="8.2" font-weight="bold" text-anchor="end" fill="#000" stroke="#000" stroke-width="0.22" >16</text>
<text x="198.18" y="515.80" font-family='"Liberation Sans", sans-serif' font-size="8.2" font-weight="bold" text-anchor="middle" fill="#000" stroke="#000" stroke-width="0.22" >18</text>
<text x="26.10" y="338.55" font-family='"Liberation Sans", sans-serif' font-size="8.2" font-weight="bold" text-anchor="end" fill="#000" stroke="#000" stroke-width="0.22" >18</text>
<text x="216.72" y="515.80" font-family='"Liberation Sans", sans-serif' font-size="8.2" font-weight="bold" text-anchor="middle" fill="#000" stroke="#000" stroke-width="0.22" >20</text>
<text x="26.10" y="320.13" font-family='"Liberation Sans", sans-serif' font-size="8.2" font-weight="bold" text-anchor="end" fill="#000" stroke="#000" stroke-width="0.22" >20</text>
<text x="235.26" y="515.80" font-family='"Liberation Sans", sans-serif' font-size="8.2" font-weight="bold" text-anchor="middle" fill="#000" stroke="#000" stroke-width="0.22" >22</text>
<text x="26.10" y="301.72" font-family='"Liberation Sans", sans-serif' font-size="8.2" font-weight="bold" text-anchor="end" fill="#000" stroke="#000" stroke-width="0.22" >22</text>
<text x="253.80" y="515.80" font-family='"Liberation Sans", sans-serif' font-size="8.2" font-weight="bold" text-anchor="middle" fill="#000" stroke="#000" stroke-width="0.22" >24</text>
<text x="26.10" y="283.30" font-family='"Liberation Sans", sans-serif' font-size="8.2" font-weight="bold" text-anchor="end" fill="#000" stroke="#000" stroke-width="0.22" >24</text>
<rect x="233.6" y="351.3" width="9.0" height="147.1" fill="url(#cbg)"/>
<text x="245.20" y="361.87" font-family='"Liberation Sans", sans-serif' font-size="6.8" font-weight="bold" text-anchor="start" fill="#000" stroke="#000" stroke-width="0.22" >1</text>
<text x="245.20" y="378.55" font-family='"Liberation Sans", sans-serif' font-size="6.8" font-weight="bold" text-anchor="start" fill="#000" stroke="#000" stroke-width="0.22" >0</text>
<text x="245.20" y="395.23" font-family='"Liberation Sans", sans-serif' font-size="6.8" font-weight="bold" text-anchor="start" fill="#000" stroke="#000" stroke-width="0.22" >-1</text>
<text x="245.20" y="411.91" font-family='"Liberation Sans", sans-serif' font-size="6.8" font-weight="bold" text-anchor="start" fill="#000" stroke="#000" stroke-width="0.22" >-2</text>
<text x="245.20" y="428.58" font-family='"Liberation Sans", sans-serif' font-size="6.8" font-weight="bold" text-anchor="start" fill="#000" stroke="#000" stroke-width="0.22" >-3</text>
<text x="245.20" y="445.26" font-family='"Liberation Sans", sans-serif' font-size="6.8" font-weight="bold" text-anchor="start" fill="#000" stroke="#000" stroke-width="0.22" >-4</text>
<text x="245.20" y="461.94" font-family='"Liberation Sans", sans-serif' font-size="6.8" font-weight="bold" text-anchor="start" fill="#000" stroke="#000" stroke-width="0.22" >-5</text>
<text x="245.20" y="478.62" font-family='"Liberation Sans", sans-serif' font-size="6.8" font-weight="bold" text-anchor="start" fill="#000" stroke="#000" stroke-width="0.22" >-6</text>
<text x="245.20" y="495.30" font-family='"Liberation Sans", sans-serif' font-size="6.8" font-weight="bold" text-anchor="start" fill="#000" stroke="#000" stroke-width="0.22" >-7</text>
<line x1="321.2" y1="501.4" x2="543.4" y2="280.4" stroke="#404040" stroke-width="1.1" stroke-dasharray="4 3.42"/>
<line x1="321.2" y1="435.1" x2="387.9" y2="435.1" stroke="#6060ff" stroke-width="1.45" stroke-dasharray="3.7 3.8"/>
<line x1="387.9" y1="435.1" x2="387.9" y2="501.4" stroke="#6060ff" stroke-width="1.45" stroke-dasharray="3.7 3.8"/>
<circle cx="333.9" cy="484.3" r="1.55" fill="#ff6d00" stroke="#fff" stroke-width="0.9"/>
<circle cx="351.1" cy="488.5" r="1.55" fill="#ff1c00" stroke="#fff" stroke-width="0.9"/>
<circle cx="337.9" cy="476.3" r="1.55" fill="#ff8000" stroke="#fff" stroke-width="0.9"/>
<circle cx="329.6" cy="497.5" r="1.55" fill="#ff4700" stroke="#fff" stroke-width="0.9"/>
<circle cx="355.3" cy="463.6" r="1.55" fill="#ff6b00" stroke="#fff" stroke-width="0.9"/>
<circle cx="346.7" cy="477.6" r="1.55" fill="#ff5400" stroke="#fff" stroke-width="0.9"/>
<circle cx="339.6" cy="492.0" r="1.55" fill="#ff3700" stroke="#fff" stroke-width="0.9"/>
<circle cx="332.0" cy="489.0" r="1.55" fill="#ff6200" stroke="#fff" stroke-width="0.9"/>
<circle cx="350.5" cy="483.9" r="1.55" fill="#ff2d00" stroke="#fff" stroke-width="0.9"/>
<circle cx="328.3" cy="492.5" r="1.55" fill="#ff6200" stroke="#fff" stroke-width="0.9"/>
<circle cx="326.4" cy="497.3" r="1.55" fill="#ff5500" stroke="#fff" stroke-width="0.9"/>
<circle cx="351.8" cy="469.7" r="1.55" fill="#ff6000" stroke="#fff" stroke-width="0.9"/>
<circle cx="340.1" cy="484.7" r="1.55" fill="#ff5100" stroke="#fff" stroke-width="0.9"/>
<circle cx="332.1" cy="496.3" r="1.55" fill="#ff4200" stroke="#fff" stroke-width="0.9"/>
<circle cx="346.9" cy="484.5" r="1.55" fill="#ff3700" stroke="#fff" stroke-width="0.9"/>
<circle cx="357.9" cy="457.1" r="1.55" fill="#ff7d00" stroke="#fff" stroke-width="0.9"/>
<circle cx="360.1" cy="462.4" r="1.55" fill="#ff5b00" stroke="#fff" stroke-width="0.9"/>
<circle cx="337.5" cy="495.3" r="1.55" fill="#ff3200" stroke="#fff" stroke-width="0.9"/>
<circle cx="354.4" cy="459.3" r="1.55" fill="#ff8300" stroke="#fff" stroke-width="0.9"/>
<circle cx="332.4" cy="476.1" r="1.55" fill="#ff9c00" stroke="#fff" stroke-width="0.9"/>
<circle cx="359.8" cy="457.8" r="1.55" fill="#ff7100" stroke="#fff" stroke-width="0.9"/>
<circle cx="353.9" cy="471.4" r="1.55" fill="#ff4f00" stroke="#fff" stroke-width="0.9"/>
<circle cx="330.1" cy="485.3" r="1.55" fill="#ff7a00" stroke="#fff" stroke-width="0.9"/>
<circle cx="346.5" cy="474.2" r="1.55" fill="#ff6300" stroke="#fff" stroke-width="0.9"/>
<circle cx="334.8" cy="475.5" r="1.55" fill="#ff9300" stroke="#fff" stroke-width="0.9"/>
<circle cx="360.8" cy="452.7" r="1.55" fill="#ff8400" stroke="#fff" stroke-width="0.9"/>
<circle cx="348.8" cy="464.0" r="1.55" fill="#ff8700" stroke="#fff" stroke-width="0.9"/>
<circle cx="362.3" cy="453.2" r="1.55" fill="#ff7a00" stroke="#fff" stroke-width="0.9"/>
<circle cx="339.5" cy="488.7" r="1.55" fill="#ff4300" stroke="#fff" stroke-width="0.9"/>
<circle cx="343.9" cy="465.5" r="1.55" fill="#ff9800" stroke="#fff" stroke-width="0.9"/>
<circle cx="348.8" cy="488.5" r="1.55" fill="#ff2400" stroke="#fff" stroke-width="0.9"/>
<circle cx="324.6" cy="493.7" r="1.55" fill="#ff6d00" stroke="#fff" stroke-width="0.9"/>
<circle cx="326.9" cy="498.9" r="1.55" fill="#ff4d00" stroke="#fff" stroke-width="0.9"/>
<circle cx="352.3" cy="481.3" r="1.55" fill="#ff3000" stroke="#fff" stroke-width="0.9"/>
<circle cx="327.5" cy="490.2" r="1.55" fill="#ff6f00" stroke="#fff" stroke-width="0.9"/>
<circle cx="340.5" cy="468.7" r="1.55" fill="#ff9900" stroke="#fff" stroke-width="0.9"/>
<circle cx="359.6" cy="463.9" r="1.55" fill="#ff5700" stroke="#fff" stroke-width="0.9"/>
<circle cx="346.7" cy="464.0" r="1.55" fill="#ff9100" stroke="#fff" stroke-width="0.9"/>
<circle cx="325.9" cy="489.2" r="1.55" fill="#ff7b00" stroke="#fff" stroke-width="0.9"/>
<circle cx="333.0" cy="497.6" r="1.55" fill="#ff3a00" stroke="#fff" stroke-width="0.9"/>
<circle cx="339.8" cy="479.7" r="1.55" fill="#ff6800" stroke="#fff" stroke-width="0.9"/>
<circle cx="341.3" cy="474.0" r="1.55" fill="#ff7b00" stroke="#fff" stroke-width="0.9"/>
<circle cx="328.2" cy="494.8" r="1.55" fill="#ff5900" stroke="#fff" stroke-width="0.9"/>
<circle cx="335.8" cy="481.3" r="1.55" fill="#ff7200" stroke="#fff" stroke-width="0.9"/>
<circle cx="345.9" cy="479.4" r="1.55" fill="#ff4f00" stroke="#fff" stroke-width="0.9"/>
<circle cx="360.2" cy="455.9" r="1.55" fill="#ff7700" stroke="#fff" stroke-width="0.9"/>
<circle cx="339.4" cy="475.6" r="1.55" fill="#ff7c00" stroke="#fff" stroke-width="0.9"/>
<circle cx="340.6" cy="490.6" r="1.55" fill="#ff3800" stroke="#fff" stroke-width="0.9"/>
<circle cx="358.9" cy="462.5" r="1.55" fill="#ff6000" stroke="#fff" stroke-width="0.9"/>
<circle cx="347.5" cy="479.5" r="1.55" fill="#ff4800" stroke="#fff" stroke-width="0.9"/>
<circle cx="349.4" cy="485.7" r="1.55" fill="#ff2b00" stroke="#fff" stroke-width="0.9"/>
<circle cx="349.4" cy="481.2" r="1.55" fill="#ff3a00" stroke="#fff" stroke-width="0.9"/>
<circle cx="354.6" cy="479.7" r="1.55" fill="#ff2e00" stroke="#fff" stroke-width="0.9"/>
<circle cx="335.3" cy="476.7" r="1.55" fill="#ff8b00" stroke="#fff" stroke-width="0.9"/>
<circle cx="337.1" cy="484.4" r="1.55" fill="#ff5f00" stroke="#fff" stroke-width="0.9"/>
<circle cx="335.4" cy="479.3" r="1.55" fill="#ff7d00" stroke="#fff" stroke-width="0.9"/>
<circle cx="337.2" cy="487.9" r="1.55" fill="#ff4f00" stroke="#fff" stroke-width="0.9"/>
<circle cx="335.6" cy="488.7" r="1.55" fill="#ff5300" stroke="#fff" stroke-width="0.9"/>
<circle cx="354.9" cy="467.2" r="1.55" fill="#ff5d00" stroke="#fff" stroke-width="0.9"/>
<circle cx="335.4" cy="492.2" r="1.55" fill="#ff4500" stroke="#fff" stroke-width="0.9"/>
<circle cx="329.6" cy="490.0" r="1.55" fill="#ff6700" stroke="#fff" stroke-width="0.9"/>
<circle cx="333.6" cy="475.3" r="1.55" fill="#ff9a00" stroke="#fff" stroke-width="0.9"/>
<circle cx="333.9" cy="482.6" r="1.55" fill="#ff7500" stroke="#fff" stroke-width="0.9"/>
<circle cx="339.2" cy="486.8" r="1.55" fill="#ff4c00" stroke="#fff" stroke-width="0.9"/>
<circle cx="342.1" cy="480.0" r="1.55" fill="#ff5d00" stroke="#fff" stroke-width="0.9"/>
<circle cx="346.3" cy="492.2" r="1.55" fill="#ff2000" stroke="#fff" stroke-width="0.9"/>
<circle cx="339.1" cy="470.7" r="1.55" fill="#ff9500" stroke="#fff" stroke-width="0.9"/>
<circle cx="348.7" cy="489.7" r="1.55" fill="#ff2000" stroke="#fff" stroke-width="0.9"/>
<circle cx="337.5" cy="468.5" r="1.55" fill="#ffab00" stroke="#fff" stroke-width="0.9"/>
<circle cx="338.6" cy="482.2" r="1.55" fill="#ff6200" stroke="#fff" stroke-width="0.9"/>
<circle cx="339.7" cy="473.5" r="1.55" fill="#ff8500" stroke="#fff" stroke-width="0.9"/>
<circle cx="352.1" cy="459.8" r="1.55" fill="#ff8c00" stroke="#fff" stroke-width="0.9"/>
<circle cx="350.2" cy="489.5" r="1.55" fill="#ff1c00" stroke="#fff" stroke-width="0.9"/>
<circle cx="338.4" cy="489.6" r="1.55" fill="#ff4300" stroke="#fff" stroke-width="0.9"/>
<circle cx="331.9" cy="483.2" r="1.55" fill="#ff7b00" stroke="#fff" stroke-width="0.9"/>
<circle cx="324.4" cy="498.3" r="1.55" fill="#ff5a00" stroke="#fff" stroke-width="0.9"/>
<circle cx="330.5" cy="488.3" r="1.55" fill="#ff6b00" stroke="#fff" stroke-width="0.9"/>
<circle cx="357.1" cy="460.2" r="1.55" fill="#ff7200" stroke="#fff" stroke-width="0.9"/>
<circle cx="344.4" cy="489.6" r="1.55" fill="#ff2f00" stroke="#fff" stroke-width="0.9"/>
<circle cx="351.0" cy="465.4" r="1.55" fill="#ff7600" stroke="#fff" stroke-width="0.9"/>
<circle cx="349.4" cy="487.2" r="1.55" fill="#ff2600" stroke="#fff" stroke-width="0.9"/>
<circle cx="334.5" cy="495.0" r="1.55" fill="#ff3d00" stroke="#fff" stroke-width="0.9"/>
<circle cx="352.5" cy="467.2" r="1.55" fill="#ff6800" stroke="#fff" stroke-width="0.9"/>
<circle cx="340.6" cy="482.7" r="1.55" fill="#ff5800" stroke="#fff" stroke-width="0.9"/>
<circle cx="352.8" cy="483.1" r="1.55" fill="#ff2900" stroke="#fff" stroke-width="0.9"/>
<circle cx="332.3" cy="485.8" r="1.55" fill="#ff6e00" stroke="#fff" stroke-width="0.9"/>
<circle cx="343.0" cy="471.2" r="1.55" fill="#ff8000" stroke="#fff" stroke-width="0.9"/>
<circle cx="342.3" cy="490.1" r="1.55" fill="#ff3400" stroke="#fff" stroke-width="0.9"/>
<circle cx="350.5" cy="478.0" r="1.55" fill="#ff4200" stroke="#fff" stroke-width="0.9"/>
<circle cx="334.4" cy="485.6" r="1.55" fill="#ff6600" stroke="#fff" stroke-width="0.9"/>
<circle cx="352.9" cy="485.2" r="1.55" fill="#ff2100" stroke="#fff" stroke-width="0.9"/>
<circle cx="347.0" cy="470.6" r="1.55" fill="#ff7000" stroke="#fff" stroke-width="0.9"/>
<circle cx="358.6" cy="464.8" r="1.55" fill="#ff5700" stroke="#fff" stroke-width="0.9"/>
<circle cx="343.6" cy="492.9" r="1.55" fill="#ff2600" stroke="#fff" stroke-width="0.9"/>
<circle cx="362.2" cy="457.8" r="1.55" fill="#ff6700" stroke="#fff" stroke-width="0.9"/>
<circle cx="335.5" cy="496.3" r="1.55" fill="#ff3600" stroke="#fff" stroke-width="0.9"/>
<circle cx="336.8" cy="470.9" r="1.55" fill="#ffa000" stroke="#fff" stroke-width="0.9"/>
<circle cx="343.8" cy="477.5" r="1.55" fill="#ff6000" stroke="#fff" stroke-width="0.9"/>
<circle cx="353.5" cy="481.7" r="1.55" fill="#ff2b00" stroke="#fff" stroke-width="0.9"/>
<circle cx="341.2" cy="479.0" r="1.55" fill="#ff6500" stroke="#fff" stroke-width="0.9"/>
<circle cx="332.8" cy="494.2" r="1.55" fill="#ff4700" stroke="#fff" stroke-width="0.9"/>
<circle cx="335.8" cy="495.0" r="1.55" fill="#ff3900" stroke="#fff" stroke-width="0.9"/>
<circle cx="342.5" cy="492.3" r="1.55" fill="#ff2c00" stroke="#fff" stroke-width="0.9"/>
<circle cx="348.9" cy="473.3" r="1.55" fill="#ff5d00" stroke="#fff" stroke-width="0.9"/>
<circle cx="327.3" cy="493.4" r="1.55" fill="#ff6300" stroke="#fff" stroke-width="0.9"/>
<circle cx="324.4" cy="496.0" r="1.55" fill="#ff6300" stroke="#fff" stroke-width="0.9"/>
<circle cx="341.8" cy="483.7" r="1.55" fill="#ff4e00" stroke="#fff" stroke-width="0.9"/>
<circle cx="337.6" cy="490.5" r="1.55" fill="#ff4200" stroke="#fff" stroke-width="0.9"/>
<circle cx="353.0" cy="469.7" r="1.55" fill="#ff5a00" stroke="#fff" stroke-width="0.9"/>
<circle cx="359.1" cy="455.4" r="1.55" fill="#ff7f00" stroke="#fff" stroke-width="0.9"/>
<circle cx="359.1" cy="461.3" r="1.55" fill="#ff6500" stroke="#fff" stroke-width="0.9"/>
<circle cx="343.3" cy="469.0" r="1.55" fill="#ff8900" stroke="#fff" stroke-width="0.9"/>
<circle cx="329.9" cy="495.7" r="1.55" fill="#ff4e00" stroke="#fff" stroke-width="0.9"/>
<circle cx="330.4" cy="483.1" r="1.55" fill="#ff8300" stroke="#fff" stroke-width="0.9"/>
<circle cx="355.2" cy="465.8" r="1.55" fill="#ff6200" stroke="#fff" stroke-width="0.9"/>
<circle cx="347.5" cy="466.8" r="1.55" fill="#ff8000" stroke="#fff" stroke-width="0.9"/>
<circle cx="343.1" cy="483.2" r="1.55" fill="#ff4b00" stroke="#fff" stroke-width="0.9"/>
<circle cx="338.7" cy="495.0" r="1.55" fill="#ff3000" stroke="#fff" stroke-width="0.9"/>
<circle cx="345.7" cy="488.0" r="1.55" fill="#ff3000" stroke="#fff" stroke-width="0.9"/>
<circle cx="345.1" cy="483.8" r="1.55" fill="#ff4000" stroke="#fff" stroke-width="0.9"/>
<circle cx="348.6" cy="477.2" r="1.55" fill="#ff4d00" stroke="#fff" stroke-width="0.9"/>
<circle cx="342.4" cy="494.4" r="1.55" fill="#ff2500" stroke="#fff" stroke-width="0.9"/>
<circle cx="332.9" cy="474.3" r="1.55" fill="#ffa300" stroke="#fff" stroke-width="0.9"/>
<circle cx="353.0" cy="472.5" r="1.55" fill="#ff4e00" stroke="#fff" stroke-width="0.9"/>
<circle cx="325.6" cy="498.8" r="1.55" fill="#ff5300" stroke="#fff" stroke-width="0.9"/>
<circle cx="335.1" cy="493.6" r="1.55" fill="#ff4000" stroke="#fff" stroke-width="0.9"/>
<circle cx="345.0" cy="491.6" r="1.55" fill="#ff2600" stroke="#fff" stroke-width="0.9"/>
<circle cx="344.5" cy="472.7" r="1.55" fill="#ff7200" stroke="#fff" stroke-width="0.9"/>
<circle cx="329.2" cy="481.8" r="1.55" fill="#ff9000" stroke="#fff" stroke-width="0.9"/>
<circle cx="350.1" cy="463.3" r="1.55" fill="#ff8400" stroke="#fff" stroke-width="0.9"/>
<circle cx="330.9" cy="490.3" r="1.55" fill="#ff6100" stroke="#fff" stroke-width="0.9"/>
<circle cx="346.7" cy="489.2" r="1.55" fill="#ff2800" stroke="#fff" stroke-width="0.9"/>
<circle cx="361.2" cy="460.3" r="1.55" fill="#ff6000" stroke="#fff" stroke-width="0.9"/>
<circle cx="327.5" cy="500.0" r="1.55" fill="#ff4500" stroke="#fff" stroke-width="0.9"/>
<circle cx="331.9" cy="481.5" r="1.55" fill="#ff8300" stroke="#fff" stroke-width="0.9"/>
<circle cx="333.9" cy="493.6" r="1.55" fill="#ff4500" stroke="#fff" stroke-width="0.9"/>
<circle cx="338.6" cy="479.6" r="1.55" fill="#ff6e00" stroke="#fff" stroke-width="0.9"/>
<circle cx="359.4" cy="454.1" r="1.55" fill="#ff8400" stroke="#fff" stroke-width="0.9"/>
<circle cx="343.8" cy="481.6" r="1.55" fill="#ff4f00" stroke="#fff" stroke-width="0.9"/>
<circle cx="349.9" cy="474.1" r="1.55" fill="#ff5500" stroke="#fff" stroke-width="0.9"/>
<circle cx="345.5" cy="473.5" r="1.55" fill="#ff6a00" stroke="#fff" stroke-width="0.9"/>
<circle cx="348.0" cy="483.0" r="1.55" fill="#ff3900" stroke="#fff" stroke-width="0.9"/>
<circle cx="324.3" cy="492.4" r="1.55" fill="#ff7300" stroke="#fff" stroke-width="0.9"/>
<circle cx="356.1" cy="470.6" r="1.55" fill="#ff4900" stroke="#fff" stroke-width="0.9"/>
<circle cx="333.2" cy="490.3" r="1.55" fill="#ff5700" stroke="#fff" stroke-width="0.9"/>
<circle cx="328.9" cy="484.9" r="1.55" fill="#ff8200" stroke="#fff" stroke-width="0.9"/>
<circle cx="344.8" cy="461.8" r="1.55" fill="#ffa700" stroke="#fff" stroke-width="0.9"/>
<circle cx="335.5" cy="483.5" r="1.55" fill="#ff6a00" stroke="#fff" stroke-width="0.9"/>
<circle cx="343.1" cy="472.8" r="1.55" fill="#ff7800" stroke="#fff" stroke-width="0.9"/>
<circle cx="348.6" cy="461.5" r="1.55" fill="#ff9400" stroke="#fff" stroke-width="0.9"/>
<circle cx="325.9" cy="491.8" r="1.55" fill="#ff6f00" stroke="#fff" stroke-width="0.9"/>
<circle cx="347.2" cy="490.3" r="1.55" fill="#ff2300" stroke="#fff" stroke-width="0.9"/>
<circle cx="337.9" cy="492.7" r="1.55" fill="#ff3a00" stroke="#fff" stroke-width="0.9"/>
<circle cx="333.7" cy="476.9" r="1.55" fill="#ff9200" stroke="#fff" stroke-width="0.9"/>
<circle cx="347.4" cy="462.3" r="1.55" fill="#ff9600" stroke="#fff" stroke-width="0.9"/>
<circle cx="356.4" cy="468.7" r="1.55" fill="#ff5000" stroke="#fff" stroke-width="0.9"/>
<circle cx="382.6" cy="308.7" r="1.8" fill="#8855ff" stroke="#fff" stroke-width="0.5"/>
<circle cx="378.8" cy="313.2" r="1.8" fill="#8855ff" stroke="#fff" stroke-width="0.5"/>
<circle cx="388.8" cy="313.2" r="1.8" fill="#653eff" stroke="#fff" stroke-width="0.5"/>
<circle cx="384.2" cy="382.8" r="1.8" fill="#3ff000" stroke="#fff" stroke-width="0.5"/>
<circle cx="386.6" cy="410.3" r="1.8" fill="#ffdf00" stroke="#fff" stroke-width="0.5"/>
<circle cx="397.1" cy="414.0" r="1.8" fill="#ff9100" stroke="#fff" stroke-width="0.5"/>
<circle cx="384.2" cy="418.2" r="1.8" fill="#ffc200" stroke="#fff" stroke-width="0.5"/>
<circle cx="380.4" cy="431.5" r="1.8" fill="#ff8c00" stroke="#fff" stroke-width="0.5"/>
<circle cx="371.8" cy="432.8" r="1.8" fill="#ffb400" stroke="#fff" stroke-width="0.5"/>
<circle cx="375.7" cy="434.3" r="1.8" fill="#ff9600" stroke="#fff" stroke-width="0.5"/>
<circle cx="377.4" cy="436.0" r="1.8" fill="#ff8500" stroke="#fff" stroke-width="0.5"/>
<circle cx="374.6" cy="437.1" r="1.8" fill="#ff8d00" stroke="#fff" stroke-width="0.5"/>
<circle cx="367.9" cy="438.0" r="1.8" fill="#ffac00" stroke="#fff" stroke-width="0.5"/>
<circle cx="371.8" cy="439.3" r="1.8" fill="#ff9000" stroke="#fff" stroke-width="0.5"/>
<circle cx="406.1" cy="436.2" r="1.8" fill="#ff1500" stroke="#fff" stroke-width="0.5"/>
<circle cx="364.5" cy="442.7" r="1.8" fill="#ffa400" stroke="#fff" stroke-width="0.5"/>
<circle cx="376.6" cy="444.4" r="1.8" fill="#ff6200" stroke="#fff" stroke-width="0.5"/>
<circle cx="376.9" cy="447.8" r="1.8" fill="#ff5200" stroke="#fff" stroke-width="0.5"/>
<circle cx="384.7" cy="447.4" r="1.8" fill="#ff3600" stroke="#fff" stroke-width="0.5"/>
<circle cx="396.9" cy="450.0" r="1.8" fill="#ff0d00" stroke="#fff" stroke-width="0.5"/>
<circle cx="361.1" cy="450.0" r="1.8" fill="#ff9000" stroke="#fff" stroke-width="0.5"/>
<circle cx="367.0" cy="452.8" r="1.8" fill="#ff6700" stroke="#fff" stroke-width="0.5"/>
<circle cx="374.4" cy="454.7" r="1.8" fill="#ff3f00" stroke="#fff" stroke-width="0.5"/>
<circle cx="362.2" cy="455.6" r="1.8" fill="#ff7000" stroke="#fff" stroke-width="0.5"/>
<circle cx="362.8" cy="459.0" r="1.8" fill="#ff5f00" stroke="#fff" stroke-width="0.5"/>
<circle cx="357.8" cy="455.7" r="1.8" fill="#ff8400" stroke="#fff" stroke-width="0.5"/>
<circle cx="356.9" cy="458.1" r="1.8" fill="#ff7c00" stroke="#fff" stroke-width="0.5"/>
<circle cx="366.7" cy="462.3" r="1.8" fill="#ff4000" stroke="#fff" stroke-width="0.5"/>
<circle cx="354.5" cy="460.4" r="1.8" fill="#ff7d00" stroke="#fff" stroke-width="0.5"/>
<circle cx="343.7" cy="462.8" r="1.8" fill="#ffa800" stroke="#fff" stroke-width="0.5"/>
<circle cx="346.6" cy="465.1" r="1.8" fill="#ff8d00" stroke="#fff" stroke-width="0.5"/>
<circle cx="352.2" cy="464.6" r="1.8" fill="#ff7400" stroke="#fff" stroke-width="0.5"/>
<circle cx="361.1" cy="466.0" r="1.8" fill="#ff4800" stroke="#fff" stroke-width="0.5"/>
<circle cx="358.7" cy="469.3" r="1.8" fill="#ff4400" stroke="#fff" stroke-width="0.5"/>
<circle cx="377.9" cy="468.4" r="1.8" fill="#ff0e00" stroke="#fff" stroke-width="0.5"/>
<circle cx="344.7" cy="467.9" r="1.8" fill="#ff8800" stroke="#fff" stroke-width="0.5"/>
<circle cx="349.4" cy="467.5" r="1.8" fill="#ff7400" stroke="#fff" stroke-width="0.5"/>
<circle cx="353.1" cy="468.4" r="1.8" fill="#ff6000" stroke="#fff" stroke-width="0.5"/>
<circle cx="355.9" cy="473.1" r="1.8" fill="#ff3f00" stroke="#fff" stroke-width="0.5"/>
<circle cx="366.7" cy="474.0" r="1.8" fill="#ff1900" stroke="#fff" stroke-width="0.5"/>
<circle cx="355.9" cy="476.3" r="1.8" fill="#ff3500" stroke="#fff" stroke-width="0.5"/>
<circle cx="351.7" cy="478.2" r="1.8" fill="#ff3c00" stroke="#fff" stroke-width="0.5"/>
<circle cx="374.6" cy="478.7" r="1.8" fill="#ff0200" stroke="#fff" stroke-width="0.5"/>
<circle cx="341.4" cy="470.3" r="1.8" fill="#ff8c00" stroke="#fff" stroke-width="0.5"/>
<circle cx="341.9" cy="473.1" r="1.8" fill="#ff7c00" stroke="#fff" stroke-width="0.5"/>
<circle cx="345.6" cy="472.1" r="1.8" fill="#ff7000" stroke="#fff" stroke-width="0.5"/>
<circle cx="347.5" cy="475.4" r="1.8" fill="#ff5900" stroke="#fff" stroke-width="0.5"/>
<circle cx="350.3" cy="471.2" r="1.8" fill="#ff6000" stroke="#fff" stroke-width="0.5"/>
<circle cx="351.7" cy="472.6" r="1.8" fill="#ff5400" stroke="#fff" stroke-width="0.5"/>
<circle cx="356.1" cy="467.0" r="1.8" fill="#ff5900" stroke="#fff" stroke-width="0.5"/>
<circle cx="371.1" cy="482.3" r="1.8" fill="#ff0200" stroke="#fff" stroke-width="0.5"/>
<circle cx="369.5" cy="481.9" r="1.8" fill="#ff0600" stroke="#fff" stroke-width="0.5"/>
<line x1="321.2" y1="280.4" x2="543.4" y2="280.4" stroke="#333" stroke-width="1.25"/>
<line x1="543.4" y1="279.8" x2="543.4" y2="502.0" stroke="#606060" stroke-width="1.25"/>
<line x1="321.2" y1="279.8" x2="321.2" y2="502.0" stroke="#484848" stroke-width="1.25"/>
<line x1="320.6" y1="501.4" x2="544.0" y2="501.4" stroke="#484848" stroke-width="1.25"/>
<line x1="321.2" y1="501.4" x2="321.2" y2="503.0" stroke="#444" stroke-width="0.9"/>
<line x1="319.6" y1="501.4" x2="321.2" y2="501.4" stroke="#444" stroke-width="0.9"/>
<line x1="332.3" y1="501.4" x2="332.3" y2="503.0" stroke="#444" stroke-width="0.9"/>
<line x1="319.6" y1="490.3" x2="321.2" y2="490.3" stroke="#444" stroke-width="0.9"/>
<line x1="343.4" y1="501.4" x2="343.4" y2="503.0" stroke="#444" stroke-width="0.9"/>
<line x1="319.6" y1="479.3" x2="321.2" y2="479.3" stroke="#444" stroke-width="0.9"/>
<line x1="354.5" y1="501.4" x2="354.5" y2="503.0" stroke="#444" stroke-width="0.9"/>
<line x1="319.6" y1="468.2" x2="321.2" y2="468.2" stroke="#444" stroke-width="0.9"/>
<line x1="365.6" y1="501.4" x2="365.6" y2="503.0" stroke="#444" stroke-width="0.9"/>
<line x1="319.6" y1="457.2" x2="321.2" y2="457.2" stroke="#444" stroke-width="0.9"/>
<line x1="376.8" y1="501.4" x2="376.8" y2="503.0" stroke="#444" stroke-width="0.9"/>
<line x1="319.6" y1="446.1" x2="321.2" y2="446.1" stroke="#444" stroke-width="0.9"/>
<line x1="387.9" y1="501.4" x2="387.9" y2="503.0" stroke="#444" stroke-width="0.9"/>
<line x1="319.6" y1="435.1" x2="321.2" y2="435.1" stroke="#444" stroke-width="0.9"/>
<line x1="399.0" y1="501.4" x2="399.0" y2="503.0" stroke="#444" stroke-width="0.9"/>
<line x1="319.6" y1="424.0" x2="321.2" y2="424.0" stroke="#444" stroke-width="0.9"/>
<line x1="410.1" y1="501.4" x2="410.1" y2="503.0" stroke="#444" stroke-width="0.9"/>
<line x1="319.6" y1="413.0" x2="321.2" y2="413.0" stroke="#444" stroke-width="0.9"/>
<line x1="421.2" y1="501.4" x2="421.2" y2="503.0" stroke="#444" stroke-width="0.9"/>
<line x1="319.6" y1="401.9" x2="321.2" y2="401.9" stroke="#444" stroke-width="0.9"/>
<line x1="432.3" y1="501.4" x2="432.3" y2="503.0" stroke="#444" stroke-width="0.9"/>
<line x1="319.6" y1="390.9" x2="321.2" y2="390.9" stroke="#444" stroke-width="0.9"/>
<line x1="443.4" y1="501.4" x2="443.4" y2="503.0" stroke="#444" stroke-width="0.9"/>
<line x1="319.6" y1="379.8" x2="321.2" y2="379.8" stroke="#444" stroke-width="0.9"/>
<line x1="454.5" y1="501.4" x2="454.5" y2="503.0" stroke="#444" stroke-width="0.9"/>
<line x1="319.6" y1="368.8" x2="321.2" y2="368.8" stroke="#444" stroke-width="0.9"/>
<line x1="465.6" y1="501.4" x2="465.6" y2="503.0" stroke="#444" stroke-width="0.9"/>
<line x1="319.6" y1="357.8" x2="321.2" y2="357.8" stroke="#444" stroke-width="0.9"/>
<line x1="476.7" y1="501.4" x2="476.7" y2="503.0" stroke="#444" stroke-width="0.9"/>
<line x1="319.6" y1="346.7" x2="321.2" y2="346.7" stroke="#444" stroke-width="0.9"/>
<line x1="487.9" y1="501.4" x2="487.9" y2="503.0" stroke="#444" stroke-width="0.9"/>
<line x1="319.6" y1="335.6" x2="321.2" y2="335.6" stroke="#444" stroke-width="0.9"/>
<line x1="499.0" y1="501.4" x2="499.0" y2="503.0" stroke="#444" stroke-width="0.9"/>
<line x1="319.6" y1="324.6" x2="321.2" y2="324.6" stroke="#444" stroke-width="0.9"/>
<line x1="510.1" y1="501.4" x2="510.1" y2="503.0" stroke="#444" stroke-width="0.9"/>
<line x1="319.6" y1="313.5" x2="321.2" y2="313.5" stroke="#444" stroke-width="0.9"/>
<line x1="521.2" y1="501.4" x2="521.2" y2="503.0" stroke="#444" stroke-width="0.9"/>
<line x1="319.6" y1="302.5" x2="321.2" y2="302.5" stroke="#444" stroke-width="0.9"/>
<line x1="532.3" y1="501.4" x2="532.3" y2="503.0" stroke="#444" stroke-width="0.9"/>
<line x1="319.6" y1="291.4" x2="321.2" y2="291.4" stroke="#444" stroke-width="0.9"/>
<line x1="543.4" y1="501.4" x2="543.4" y2="503.0" stroke="#444" stroke-width="0.9"/>
<line x1="319.6" y1="280.4" x2="321.2" y2="280.4" stroke="#444" stroke-width="0.9"/>
<text x="321.20" y="515.80" font-family='"Liberation Sans", sans-serif' font-size="8.2" font-weight="bold" text-anchor="middle" fill="#000" stroke="#000" stroke-width="0.22" >0</text>
<text x="316.00" y="504.30" font-family='"Liberation Sans", sans-serif' font-size="8.2" font-weight="bold" text-anchor="end" fill="#000" stroke="#000" stroke-width="0.22" >0</text>
<text x="343.42" y="515.80" font-family='"Liberation Sans", sans-serif' font-size="8.2" font-weight="bold" text-anchor="middle" fill="#000" stroke="#000" stroke-width="0.22" >2</text>
<text x="316.00" y="482.20" font-family='"Liberation Sans", sans-serif' font-size="8.2" font-weight="bold" text-anchor="end" fill="#000" stroke="#000" stroke-width="0.22" >2</text>
<text x="365.64" y="515.80" font-family='"Liberation Sans", sans-serif' font-size="8.2" font-weight="bold" text-anchor="middle" fill="#000" stroke="#000" stroke-width="0.22" >4</text>
<text x="316.00" y="460.10" font-family='"Liberation Sans", sans-serif' font-size="8.2" font-weight="bold" text-anchor="end" fill="#000" stroke="#000" stroke-width="0.22" >4</text>
<text x="387.86" y="515.80" font-family='"Liberation Sans", sans-serif' font-size="8.2" font-weight="bold" text-anchor="middle" fill="#000" stroke="#000" stroke-width="0.22" >6</text>
<text x="316.00" y="438.00" font-family='"Liberation Sans", sans-serif' font-size="8.2" font-weight="bold" text-anchor="end" fill="#000" stroke="#000" stroke-width="0.22" >6</text>
<text x="410.08" y="515.80" font-family='"Liberation Sans", sans-serif' font-size="8.2" font-weight="bold" text-anchor="middle" fill="#000" stroke="#000" stroke-width="0.22" >8</text>
<text x="316.00" y="415.90" font-family='"Liberation Sans", sans-serif' font-size="8.2" font-weight="bold" text-anchor="end" fill="#000" stroke="#000" stroke-width="0.22" >8</text>
<text x="432.30" y="515.80" font-family='"Liberation Sans", sans-serif' font-size="8.2" font-weight="bold" text-anchor="middle" fill="#000" stroke="#000" stroke-width="0.22" >10</text>
<text x="316.00" y="393.80" font-family='"Liberation Sans", sans-serif' font-size="8.2" font-weight="bold" text-anchor="end" fill="#000" stroke="#000" stroke-width="0.22" >10</text>
<text x="454.52" y="515.80" font-family='"Liberation Sans", sans-serif' font-size="8.2" font-weight="bold" text-anchor="middle" fill="#000" stroke="#000" stroke-width="0.22" >12</text>
<text x="316.00" y="371.70" font-family='"Liberation Sans", sans-serif' font-size="8.2" font-weight="bold" text-anchor="end" fill="#000" stroke="#000" stroke-width="0.22" >12</text>
<text x="476.74" y="515.80" font-family='"Liberation Sans", sans-serif' font-size="8.2" font-weight="bold" text-anchor="middle" fill="#000" stroke="#000" stroke-width="0.22" >14</text>
<text x="316.00" y="349.60" font-family='"Liberation Sans", sans-serif' font-size="8.2" font-weight="bold" text-anchor="end" fill="#000" stroke="#000" stroke-width="0.22" >14</text>
<text x="498.96" y="515.80" font-family='"Liberation Sans", sans-serif' font-size="8.2" font-weight="bold" text-anchor="middle" fill="#000" stroke="#000" stroke-width="0.22" >16</text>
<text x="316.00" y="327.50" font-family='"Liberation Sans", sans-serif' font-size="8.2" font-weight="bold" text-anchor="end" fill="#000" stroke="#000" stroke-width="0.22" >16</text>
<text x="521.18" y="515.80" font-family='"Liberation Sans", sans-serif' font-size="8.2" font-weight="bold" text-anchor="middle" fill="#000" stroke="#000" stroke-width="0.22" >18</text>
<text x="316.00" y="305.40" font-family='"Liberation Sans", sans-serif' font-size="8.2" font-weight="bold" text-anchor="end" fill="#000" stroke="#000" stroke-width="0.22" >18</text>
<text x="543.40" y="515.80" font-family='"Liberation Sans", sans-serif' font-size="8.2" font-weight="bold" text-anchor="middle" fill="#000" stroke="#000" stroke-width="0.22" >20</text>
<text x="316.00" y="283.30" font-family='"Liberation Sans", sans-serif' font-size="8.2" font-weight="bold" text-anchor="end" fill="#000" stroke="#000" stroke-width="0.22" >20</text>
<rect x="518.2" y="351.3" width="9.6" height="147.1" fill="url(#cbg)"/>
<text x="530.40" y="362.64" font-family='"Liberation Sans", sans-serif' font-size="6.8" font-weight="bold" text-anchor="start" fill="#000" stroke="#000" stroke-width="0.22" >2</text>
<text x="530.40" y="372.69" font-family='"Liberation Sans", sans-serif' font-size="6.8" font-weight="bold" text-anchor="start" fill="#000" stroke="#000" stroke-width="0.22" >1</text>
<text x="530.40" y="382.74" font-family='"Liberation Sans", sans-serif' font-size="6.8" font-weight="bold" text-anchor="start" fill="#000" stroke="#000" stroke-width="0.22" >0</text>
<text x="530.40" y="392.79" font-family='"Liberation Sans", sans-serif' font-size="6.8" font-weight="bold" text-anchor="start" fill="#000" stroke="#000" stroke-width="0.22" >-1</text>
<text x="530.40" y="402.83" font-family='"Liberation Sans", sans-serif' font-size="6.8" font-weight="bold" text-anchor="start" fill="#000" stroke="#000" stroke-width="0.22" >-2</text>
<text x="530.40" y="412.88" font-family='"Liberation Sans", sans-serif' font-size="6.8" font-weight="bold" text-anchor="start" fill="#000" stroke="#000" stroke-width="0.22" >-3</text>
<text x="530.40" y="422.93" font-family='"Liberation Sans", sans-serif' font-size="6.8" font-weight="bold" text-anchor="start" fill="#000" stroke="#000" stroke-width="0.22" >-4</text>
<text x="530.40" y="432.98" font-family='"Liberation Sans", sans-serif' font-size="6.8" font-weight="bold" text-anchor="start" fill="#000" stroke="#000" stroke-width="0.22" >-5</text>
<text x="530.40" y="443.03" font-family='"Liberation Sans", sans-serif' font-size="6.8" font-weight="bold" text-anchor="start" fill="#000" stroke="#000" stroke-width="0.22" >-6</text>
<text x="530.40" y="453.07" font-family='"Liberation Sans", sans-serif' font-size="6.8" font-weight="bold" text-anchor="start" fill="#000" stroke="#000" stroke-width="0.22" >-7</text>
<text x="530.40" y="463.12" font-family='"Liberation Sans", sans-serif' font-size="6.8" font-weight="bold" text-anchor="start" fill="#000" stroke="#000" stroke-width="0.22" >-8</text>
<text x="530.40" y="473.17" font-family='"Liberation Sans", sans-serif' font-size="6.8" font-weight="bold" text-anchor="start" fill="#000" stroke="#000" stroke-width="0.22" >-9</text>
<text x="530.40" y="483.22" font-family='"Liberation Sans", sans-serif' font-size="6.8" font-weight="bold" text-anchor="start" fill="#000" stroke="#000" stroke-width="0.22" >-10</text>
<text x="530.40" y="493.26" font-family='"Liberation Sans", sans-serif' font-size="6.8" font-weight="bold" text-anchor="start" fill="#000" stroke="#000" stroke-width="0.22" >-11</text>
<text x="33.90" y="20.30" font-family='"Liberation Sans", sans-serif' font-size="11.25" font-weight="bold" text-anchor="start" fill="#000" stroke="#000" stroke-width="0.08" textLength="104.5" lengthAdjust="spacingAndGlyphs">(a) Suao ERA5_D04</text>
<text x="323.50" y="20.80" font-family='"Liberation Sans", sans-serif' font-size="11.4" font-weight="bold" text-anchor="start" fill="#000" stroke="#000" stroke-width="0.08" textLength="120.6" lengthAdjust="spacingAndGlyphs">(b) Hualien ERA5_D04</text>
<text x="33.50" y="294.90" font-family='"Liberation Sans", sans-serif' font-size="11.4" font-weight="bold" text-anchor="start" fill="#000" stroke="#000" stroke-width="0.08" textLength="118.7" lengthAdjust="spacingAndGlyphs">(c) Taitung ERA5_D04</text>
<text x="323.50" y="294.90" font-family='"Liberation Sans", sans-serif' font-size="11.4" font-weight="bold" text-anchor="start" fill="#000" stroke="#000" stroke-width="0.08" textLength="119.4" lengthAdjust="spacingAndGlyphs">(d) Eluanbi ERA5_D04</text>
<text x="35.50" y="41.00" font-family='"Liberation Sans", sans-serif' font-size="9.0" font-weight="bold" text-anchor="start" fill="#000" stroke="#000" stroke-width="0.22" textLength="90.5" lengthAdjust="spacingAndGlyphs">Typhoon Megi driven</text>
<text x="35.50" y="53.00" font-family='"Liberation Sans", sans-serif' font-size="9.0" font-weight="bold" text-anchor="start" fill="#000" stroke="#000" stroke-width="0.22" textLength="64.3" lengthAdjust="spacingAndGlyphs">extreme waves</text>
<text x="323.50" y="61.50" font-family='"Liberation Sans", sans-serif' font-size="9.0" font-weight="bold" text-anchor="start" fill="#000" stroke="#000" stroke-width="0.22" textLength="90.0" lengthAdjust="spacingAndGlyphs">Typhoon Megi driven</text>
<text x="323.50" y="73.50" font-family='"Liberation Sans", sans-serif' font-size="9.0" font-weight="bold" text-anchor="start" fill="#000" stroke="#000" stroke-width="0.22" textLength="65.0" lengthAdjust="spacingAndGlyphs">extreme waves</text>
<text x="54.80" y="313.60" font-family='"Liberation Sans", sans-serif' font-size="9.0" font-weight="bold" text-anchor="start" fill="#000" stroke="#000" stroke-width="0.22" textLength="100.5" lengthAdjust="spacingAndGlyphs">Typhoon Meranti driven</text>
<text x="54.80" y="325.50" font-family='"Liberation Sans", sans-serif' font-size="9.0" font-weight="bold" text-anchor="start" fill="#000" stroke="#000" stroke-width="0.22" textLength="64.0" lengthAdjust="spacingAndGlyphs">extreme waves</text>
<text x="344.80" y="360.50" font-family='"Liberation Sans", sans-serif' font-size="9.0" font-weight="bold" text-anchor="start" fill="#000" stroke="#000" stroke-width="0.22" textLength="73.1" lengthAdjust="spacingAndGlyphs">Typhoon Meranti</text>
<text x="344.80" y="372.30" font-family='"Liberation Sans", sans-serif' font-size="9.0" font-weight="bold" text-anchor="start" fill="#000" stroke="#000" stroke-width="0.22" textLength="93.5" lengthAdjust="spacingAndGlyphs">driven extreme waves</text>
<line x1="129.2" y1="35.3" x2="141.6" y2="35.3" stroke="#111" stroke-width="1.1"/>
<polygon points="141.6,35.3 137.1,37.5 137.1,33.1" fill="#111"/>
<line x1="403.7" y1="66.1" x2="416.3" y2="66.1" stroke="#111" stroke-width="1.1"/>
<polygon points="416.3,66.1 411.8,68.3 411.8,63.9" fill="#111"/>
<line x1="110.2" y1="328" x2="110.2" y2="345" stroke="#111" stroke-width="1.1"/>
<polygon points="110.2,345.0 108.0,340.5 112.4,340.5" fill="#111"/>
<line x1="384.7" y1="348.4" x2="384.7" y2="325.3" stroke="#111" stroke-width="1.1"/>
<polygon points="384.7,325.3 386.9,329.8 382.5,329.8" fill="#111"/>
<ellipse cx="154.8" cy="34.7" rx="12.5" ry="7.5" fill="none" stroke="#ff3b4b" stroke-width="1.1" stroke-dasharray="2.9 3.1"/>
<ellipse cx="432.3" cy="62.3" rx="15.5" ry="8.0" fill="none" stroke="#ff3b4b" stroke-width="1.1" stroke-dasharray="2.9 3.1"/>
<ellipse cx="110.5" cy="354.3" rx="15.3" ry="7.9" fill="none" stroke="#ff3b4b" stroke-width="1.1" stroke-dasharray="2.9 3.1"/>
<ellipse cx="384.6" cy="311.7" rx="14.0" ry="10.9" fill="none" stroke="#ff3b4b" stroke-width="1.1" stroke-dasharray="2.9 3.1"/>
<text x="142.40" y="254.90" font-family='"Liberation Sans", sans-serif' font-size="10.75" font-weight="bold" text-anchor="middle" fill="#000" stroke="#000" stroke-width="0.08" textLength="105.4" lengthAdjust="spacingAndGlyphs">Simulation, SWH (m)</text>
<text x="432.40" y="255.40" font-family='"Liberation Sans", sans-serif' font-size="10.75" font-weight="bold" text-anchor="middle" fill="#000" stroke="#000" stroke-width="0.08" textLength="105.4" lengthAdjust="spacingAndGlyphs">Simulation, SWH (m)</text>
<text x="143.20" y="528.70" font-family='"Liberation Sans", sans-serif' font-size="10.75" font-weight="bold" text-anchor="middle" fill="#000" stroke="#000" stroke-width="0.08" textLength="105.4" lengthAdjust="spacingAndGlyphs">Simulation, SWH (m)</text>
<text x="432.40" y="529.30" font-family='"Liberation Sans", sans-serif' font-size="10.75" font-weight="bold" text-anchor="middle" fill="#000" stroke="#000" stroke-width="0.08" textLength="105.4" lengthAdjust="spacingAndGlyphs">Simulation, SWH (m)</text>
<text x="0.00" y="0.00" font-family='"Liberation Sans", sans-serif' font-size="10.85" font-weight="bold" text-anchor="middle" fill="#000" stroke="#000" stroke-width="0.08" transform="translate(12.2,116.2) rotate(-90)" textLength="121.1" lengthAdjust="spacingAndGlyphs">Measurement, SWH (m)</text>
<text x="0.00" y="0.00" font-family='"Liberation Sans", sans-serif' font-size="10.85" font-weight="bold" text-anchor="middle" fill="#000" stroke="#000" stroke-width="0.08" transform="translate(301.6,116.3) rotate(-90)" textLength="121.3" lengthAdjust="spacingAndGlyphs">Measurement, SWH (m)</text>
<text x="0.00" y="0.00" font-family='"Liberation Sans", sans-serif' font-size="10.85" font-weight="bold" text-anchor="middle" fill="#000" stroke="#000" stroke-width="0.08" transform="translate(12.2,390.2) rotate(-90)" textLength="122.0" lengthAdjust="spacingAndGlyphs">Measurement, SWH (m)</text>
<text x="0.00" y="0.00" font-family='"Liberation Sans", sans-serif' font-size="10.85" font-weight="bold" text-anchor="middle" fill="#000" stroke="#000" stroke-width="0.08" transform="translate(302.0,390.2) rotate(-90)" textLength="120.8" lengthAdjust="spacingAndGlyphs">Measurement, SWH (m)</text>
<text x="0.00" y="0.00" font-family='"Liberation Sans", sans-serif' font-size="8.05" font-weight="bold" text-anchor="middle" fill="#000" stroke="#000" stroke-width="0.22" transform="translate(229.8,150.5) rotate(-90)" textLength="61.5" lengthAdjust="spacingAndGlyphs">Hourly error (m)</text>
<text x="0.00" y="0.00" font-family='"Liberation Sans", sans-serif' font-size="8.05" font-weight="bold" text-anchor="middle" fill="#000" stroke="#000" stroke-width="0.22" transform="translate(519.8,150.3) rotate(-90)" textLength="61.2" lengthAdjust="spacingAndGlyphs">Hourly error (m)</text>
<text x="0.00" y="0.00" font-family='"Liberation Sans", sans-serif' font-size="8.05" font-weight="bold" text-anchor="middle" fill="#000" stroke="#000" stroke-width="0.22" transform="translate(229.2,425.3) rotate(-90)" textLength="61.4" lengthAdjust="spacingAndGlyphs">Hourly error (m)</text>
<text x="0.00" y="0.00" font-family='"Liberation Sans", sans-serif' font-size="8.05" font-weight="bold" text-anchor="middle" fill="#000" stroke="#000" stroke-width="0.22" transform="translate(514.4,425.3) rotate(-90)" textLength="61.4" lengthAdjust="spacingAndGlyphs">Hourly error (m)</text></svg>
</body></html>
